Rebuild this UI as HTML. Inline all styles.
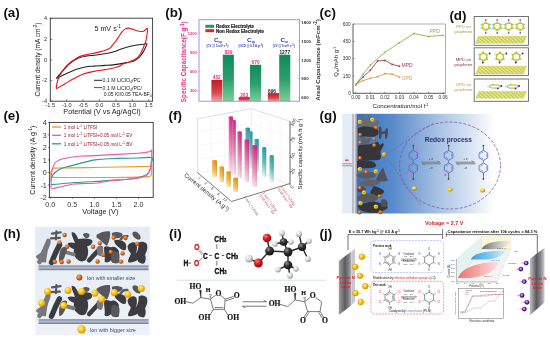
<!DOCTYPE html>
<html><head><meta charset="utf-8"><style>
html,body{margin:0;padding:0;background:#fff;width:550px;height:340px;overflow:hidden}
svg{display:block}
text{font-family:"Liberation Sans", Arial, sans-serif}
</style></head><body>
<svg width="550" height="340" viewBox="0 0 550 340">
<defs>
<linearGradient id="gb" x1="0" y1="0" x2="0" y2="1"><stop offset="0" stop-color="#0e8a5c"/><stop offset="0.55" stop-color="#2ea06e"/><stop offset="1" stop-color="#7ccf98"/></linearGradient>
<linearGradient id="rb" x1="0" y1="0" x2="0" y2="1"><stop offset="0" stop-color="#c01c22"/><stop offset="0.6" stop-color="#d8484c"/><stop offset="1" stop-color="#f4a0a0"/></linearGradient>
<pattern id="gstripe" width="2.6" height="2.6" patternUnits="userSpaceOnUse" patternTransform="rotate(-50)"><rect width="2.6" height="2.6" fill="#ececb0"/><rect width="1.3" height="2.6" fill="#c2c232"/><rect y="1.6" width="2.6" height="0.5" fill="#dcdc78"/></pattern>
<linearGradient id="tg" x1="0" y1="0" x2="0" y2="1"><stop offset="0" stop-color="#1f9aa0"/><stop offset="0.5" stop-color="#5cbcc0"/><stop offset="1" stop-color="#e8f6f6"/></linearGradient>
<linearGradient id="pg" x1="0" y1="0" x2="0" y2="1"><stop offset="0" stop-color="#d81e80"/><stop offset="0.5" stop-color="#e878b0"/><stop offset="1" stop-color="#f8e4ee"/></linearGradient>
<linearGradient id="og" x1="0" y1="0" x2="0" y2="1"><stop offset="0" stop-color="#e89410"/><stop offset="0.55" stop-color="#f2b840"/><stop offset="1" stop-color="#fbe8b0"/></linearGradient>
<linearGradient id="cyl" x1="0" y1="0" x2="1" y2="0"><stop offset="0" stop-color="#fff" stop-opacity="0.25"/><stop offset="0.35" stop-color="#fff" stop-opacity="0.05"/><stop offset="1" stop-color="#000" stop-opacity="0.12"/></linearGradient>
<linearGradient id="gbg" x1="0" y1="0" x2="1" y2="0"><stop offset="0" stop-color="#3574c0"/><stop offset="0.25" stop-color="#5a8ccc"/><stop offset="0.55" stop-color="#a9c3e4"/><stop offset="0.78" stop-color="#dce7f4"/><stop offset="0.92" stop-color="#ffffff"/></linearGradient>
<linearGradient id="coll" x1="0" y1="0" x2="1" y2="0"><stop offset="0" stop-color="#9a9aa4"/><stop offset="0.5" stop-color="#e0e0e8"/><stop offset="1" stop-color="#8a8a94"/></linearGradient>
<linearGradient id="tab" x1="0" y1="0" x2="0" y2="1"><stop offset="0" stop-color="#9a9aa4"/><stop offset="0.5" stop-color="#dcdce4"/><stop offset="1" stop-color="#8a8a94"/></linearGradient>
<radialGradient id="ob" cx="0.38" cy="0.35" r="0.7"><stop offset="0" stop-color="#f6b070"/><stop offset="0.5" stop-color="#d86818"/><stop offset="1" stop-color="#8a3a08"/></radialGradient>
<radialGradient id="yb" cx="0.38" cy="0.35" r="0.7"><stop offset="0" stop-color="#fff6a0"/><stop offset="0.5" stop-color="#f0c418"/><stop offset="1" stop-color="#a07808"/></radialGradient>
<linearGradient id="blobg" x1="0" y1="0" x2="1" y2="1"><stop offset="0" stop-color="#6a6a6e"/><stop offset="0.5" stop-color="#3a3a3e"/><stop offset="1" stop-color="#2a2a2c"/></linearGradient>
<linearGradient id="hbg" x1="0" y1="0" x2="0" y2="1"><stop offset="0" stop-color="#e4ebf4"/><stop offset="1" stop-color="#eef2f8"/></linearGradient>
<linearGradient id="hbar" x1="0" y1="0" x2="0" y2="1"><stop offset="0" stop-color="#7884a0"/><stop offset="0.5" stop-color="#b4bccc"/><stop offset="1" stop-color="#6c7894"/></linearGradient>
<linearGradient id="cg" x1="0" y1="0" x2="1" y2="1"><stop offset="0" stop-color="#8a8a8e"/><stop offset="0.5" stop-color="#48484c"/><stop offset="1" stop-color="#343436"/></linearGradient>
<radialGradient id="yb2" cx="0.38" cy="0.35" r="0.7"><stop offset="0" stop-color="#fff0a0"/><stop offset="0.55" stop-color="#f6c010"/><stop offset="1" stop-color="#d09000"/></radialGradient>
<radialGradient id="aO" cx="0.35" cy="0.3" r="0.75"><stop offset="0" stop-color="#ff8080"/><stop offset="0.45" stop-color="#e01818"/><stop offset="1" stop-color="#801010"/></radialGradient>
<radialGradient id="aC" cx="0.35" cy="0.3" r="0.75"><stop offset="0" stop-color="#909090"/><stop offset="0.45" stop-color="#303030"/><stop offset="1" stop-color="#101010"/></radialGradient>
<radialGradient id="aH" cx="0.35" cy="0.3" r="0.75"><stop offset="0" stop-color="#ffffff"/><stop offset="0.5" stop-color="#d8d8d8"/><stop offset="1" stop-color="#909090"/></radialGradient>
<linearGradient id="slabL" x1="0" y1="0" x2="1" y2="0"><stop offset="0" stop-color="#a0a0a4"/><stop offset="0.5" stop-color="#5c5c60"/><stop offset="0.85" stop-color="#8c8c90"/><stop offset="1" stop-color="#b8b8bc"/></linearGradient>
<linearGradient id="slabR" x1="0" y1="0" x2="1" y2="0"><stop offset="0" stop-color="#c8c8cc"/><stop offset="0.45" stop-color="#5a5a5e"/><stop offset="0.75" stop-color="#8a8a8e"/><stop offset="1" stop-color="#d0d0d4"/></linearGradient>
<linearGradient id="glowY" x1="0" y1="0" x2="1" y2="0"><stop offset="0" stop-color="#f8e800"/><stop offset="1" stop-color="#fff8a0" stop-opacity="0.2"/></linearGradient>
<linearGradient id="glowP" x1="1" y1="0" x2="0" y2="0"><stop offset="0" stop-color="#e080e0"/><stop offset="1" stop-color="#f8d0f8" stop-opacity="0.2"/></linearGradient>
<radialGradient id="pb" cx="0.38" cy="0.35" r="0.7"><stop offset="0" stop-color="#b070e0"/><stop offset="0.5" stop-color="#6a1aa0"/><stop offset="1" stop-color="#3a0a60"/></radialGradient>
<linearGradient id="ellGray" x1="0" y1="0" x2="1" y2="0"><stop offset="0" stop-color="#707070"/><stop offset="0.5" stop-color="#b8b8b8"/><stop offset="1" stop-color="#f4f4f4"/></linearGradient>
<linearGradient id="ellBlue" x1="0" y1="0" x2="1" y2="0"><stop offset="0" stop-color="#3a9ae8"/><stop offset="0.5" stop-color="#7ec4f0"/><stop offset="1" stop-color="#d8eefa"/></linearGradient>
<linearGradient id="ellRed" x1="0" y1="0" x2="1" y2="0"><stop offset="0" stop-color="#f07070"/><stop offset="0.5" stop-color="#f6a8a8"/><stop offset="1" stop-color="#fde0e0"/></linearGradient>
</defs>
<text x="3.4" y="16.8" font-size="13.4" text-anchor="start" fill="#111" font-weight="bold" >(a)</text>
<rect x="50.3" y="18.2" width="102.3" height="83.0" fill="none" stroke="#333" stroke-width="0.9"/>
<text x="47" y="20.2" font-size="5.6" text-anchor="end" fill="#333" font-weight="normal" >4</text>
<line x1="50.3" y1="18.2" x2="52.3" y2="18.2" stroke="#333" stroke-width="0.6"/>
<text x="47" y="41.4" font-size="5.6" text-anchor="end" fill="#333" font-weight="normal" >2</text>
<line x1="50.3" y1="39.4" x2="52.3" y2="39.4" stroke="#333" stroke-width="0.6"/>
<text x="47" y="62" font-size="5.6" text-anchor="end" fill="#333" font-weight="normal" >0</text>
<line x1="50.3" y1="60" x2="52.3" y2="60" stroke="#333" stroke-width="0.6"/>
<text x="47" y="82.4" font-size="5.6" text-anchor="end" fill="#333" font-weight="normal" >-2</text>
<line x1="50.3" y1="80.4" x2="52.3" y2="80.4" stroke="#333" stroke-width="0.6"/>
<text x="47" y="103" font-size="5.6" text-anchor="end" fill="#333" font-weight="normal" >-4</text>
<line x1="50.3" y1="101" x2="52.3" y2="101" stroke="#333" stroke-width="0.6"/>
<text x="50.3" y="107.2" font-size="5.6" text-anchor="middle" fill="#333" font-weight="normal" >-1.5</text>
<line x1="50.3" y1="101.2" x2="50.3" y2="99.2" stroke="#333" stroke-width="0.6"/>
<text x="66.69999999999999" y="107.2" font-size="5.6" text-anchor="middle" fill="#333" font-weight="normal" >-1.0</text>
<line x1="66.69999999999999" y1="101.2" x2="66.69999999999999" y2="99.2" stroke="#333" stroke-width="0.6"/>
<text x="83.1" y="107.2" font-size="5.6" text-anchor="middle" fill="#333" font-weight="normal" >-0.5</text>
<line x1="83.1" y1="101.2" x2="83.1" y2="99.2" stroke="#333" stroke-width="0.6"/>
<text x="99.5" y="107.2" font-size="5.6" text-anchor="middle" fill="#333" font-weight="normal" >0.0</text>
<line x1="99.5" y1="101.2" x2="99.5" y2="99.2" stroke="#333" stroke-width="0.6"/>
<text x="115.89999999999999" y="107.2" font-size="5.6" text-anchor="middle" fill="#333" font-weight="normal" >0.5</text>
<line x1="115.89999999999999" y1="101.2" x2="115.89999999999999" y2="99.2" stroke="#333" stroke-width="0.6"/>
<text x="132.3" y="107.2" font-size="5.6" text-anchor="middle" fill="#333" font-weight="normal" >1.0</text>
<line x1="132.3" y1="101.2" x2="132.3" y2="99.2" stroke="#333" stroke-width="0.6"/>
<text x="148.7" y="107.2" font-size="5.6" text-anchor="middle" fill="#333" font-weight="normal" >1.5</text>
<line x1="148.7" y1="101.2" x2="148.7" y2="99.2" stroke="#333" stroke-width="0.6"/>
<text x="102" y="114.2" font-size="7.25" text-anchor="middle" fill="#222" font-weight="normal" >Potential (V vs Ag/AgCl)</text>
<text transform="translate(40.4,59.5) rotate(-90)" font-size="6.5" text-anchor="middle" fill="#222">Current density (mA cm<tspan font-size="4.5" dy="-3">-2</tspan><tspan dy="3">)</tspan></text>
<text x="94.4" y="30.5" font-size="7.2" text-anchor="start" fill="#222" font-weight="normal" >5 mV s<tspan font-size="4.5" dy="-3">-1</tspan></text>
<path d="M56.2,78.5 C56.9,77.7 58.6,75.6 60.3,73.7 C62.0,71.8 64.2,69.0 66.2,67.0 C68.2,65.0 70.0,63.4 72.0,61.9 C74.0,60.4 75.5,59.2 78.0,58.2 C80.5,57.2 84.1,56.5 86.8,56.0 C89.5,55.5 91.8,55.5 94.0,55.2 C96.2,55.0 97.8,54.8 100.0,54.5 C102.2,54.2 105.0,53.8 107.4,53.3 C109.9,52.8 112.3,52.4 114.7,51.6 C117.1,50.8 119.5,49.6 122.0,48.7 C124.5,47.9 126.9,47.1 129.4,46.5 C131.9,45.9 134.4,45.4 136.8,45.0 C139.2,44.6 142.3,44.5 144.0,44.3 C145.7,44.1 146.7,43.3 147.0,43.8 C147.3,44.3 146.2,45.9 145.6,47.2 C145.0,48.5 144.4,50.0 143.4,51.6 C142.4,53.2 141.3,55.2 139.7,56.8 C138.1,58.3 136.0,59.9 133.8,60.9 C131.6,61.9 129.7,62.0 126.5,62.6 C123.3,63.2 118.3,64.1 114.7,64.6 C111.1,65.1 108.4,65.2 105.0,65.4 C101.6,65.7 97.4,65.8 94.1,66.1 C90.8,66.4 88.2,66.5 85.3,67.0 C82.4,67.5 79.5,68.3 76.5,69.3 C73.5,70.3 70.3,71.8 67.6,73.0 C64.9,74.2 62.2,75.7 60.3,76.6 C58.4,77.5 56.9,78.2 56.2,78.5" fill="none" stroke="#222" stroke-width="1.1"/>
<path d="M56.2,88.8 C56.3,87.9 56.6,85.1 57.0,83.2 C57.4,81.3 57.8,79.6 58.8,77.4 C59.8,75.2 61.5,72.3 63.2,70.0 C64.9,67.7 66.9,65.4 69.1,63.4 C71.3,61.4 74.3,59.5 76.5,58.2 C78.7,56.9 80.0,56.3 82.4,55.6 C84.9,54.9 88.3,54.4 91.2,53.8 C94.1,53.2 97.5,52.5 100.0,51.9 C102.5,51.3 104.2,50.8 105.9,50.1 C107.6,49.4 109.1,48.9 110.3,47.9 C111.5,46.9 112.2,45.5 113.2,44.3 C114.2,43.1 115.2,42.0 116.2,40.6 C117.2,39.2 118.1,37.7 119.1,36.2 C120.1,34.7 121.0,33.0 122.0,31.8 C123.0,30.6 124.0,29.7 125.0,29.1 C126.0,28.5 126.8,28.1 128.0,28.1 C129.2,28.1 130.7,28.6 132.4,29.1 C134.1,29.6 136.5,30.6 138.2,31.0 C139.9,31.4 141.5,31.6 142.6,31.5 C143.7,31.4 144.1,30.8 144.9,30.3 C145.7,29.8 147.1,27.8 147.4,28.5 C147.8,29.2 147.3,32.5 147.0,34.7 C146.7,37.0 146.2,39.9 145.6,42.0 C145.0,44.1 144.1,45.5 143.4,47.2 C142.7,48.9 142.3,50.6 141.2,52.4 C140.1,54.2 138.8,56.6 136.8,58.2 C134.8,59.8 131.6,61.0 129.4,61.9 C127.2,62.8 125.2,63.1 123.5,63.8 C121.8,64.5 120.6,65.6 119.1,66.3 C117.6,67.0 117.0,67.2 114.7,67.8 C112.4,68.3 108.4,69.0 105.0,69.6 C101.6,70.2 97.9,70.6 94.1,71.4 C90.3,72.2 85.8,73.2 82.4,74.4 C79.0,75.6 76.5,77.2 73.5,78.8 C70.5,80.4 67.6,82.3 64.7,84.0 C61.8,85.7 57.6,88.0 56.2,88.8" fill="none" stroke="#e8141c" stroke-width="1.1"/>
<line x1="94" y1="80.3" x2="102" y2="80.3" stroke="#222" stroke-width="1"/>
<line x1="94" y1="87.6" x2="102" y2="87.6" stroke="#e8141c" stroke-width="1"/>
<text x="102.6" y="82.2" font-size="5.2" text-anchor="start" fill="#222" font-weight="normal" >0.1 M LiClO<tspan font-size="3.5" dy="1">4</tspan><tspan dy="-1">/PC</tspan></text>
<text x="102.6" y="89.5" font-size="5.2" text-anchor="start" fill="#222" font-weight="normal" >0.1 M LiClO<tspan font-size="3.5" dy="1">4</tspan><tspan dy="-1">/PC/</tspan></text>
<text x="103.8" y="96.4" font-size="5.0" text-anchor="start" fill="#222" font-weight="normal" >0.05 KI/0.05 TEA-BF<tspan font-size="3.5" dy="1">4</tspan></text>
<text x="165.3" y="16.8" font-size="13.4" text-anchor="start" fill="#111" font-weight="bold" >(b)</text>
<rect x="211.4" y="79.9" width="10.900000000000006" height="21.299999999999997" fill="url(#rb)"/>
<rect x="222.8" y="54.7" width="11.099999999999994" height="46.5" fill="url(#gb)"/>
<rect x="238.7" y="97.1" width="11.100000000000023" height="4.1000000000000085" fill="url(#rb)"/>
<rect x="250" y="64.8" width="11.199999999999989" height="36.400000000000006" fill="url(#gb)"/>
<rect x="267.8" y="93.1" width="11.199999999999989" height="8.100000000000009" fill="url(#rb)"/>
<rect x="279.2" y="54.7" width="11.100000000000023" height="46.5" fill="url(#gb)"/>
<rect x="199" y="19.7" width="100.60000000000002" height="81.5" fill="none" stroke="#8c8ce6" stroke-width="0.9"/>
<text x="196.8" y="34.5" font-size="4.1" text-anchor="end" fill="#e8308a" font-weight="bold" >1200</text>
<line x1="199" y1="33" x2="200.5" y2="33" stroke="#8c8ce6" stroke-width="0.6"/>
<text x="196.8" y="53.8" font-size="4.1" text-anchor="end" fill="#e8308a" font-weight="bold" >900</text>
<line x1="199" y1="52.3" x2="200.5" y2="52.3" stroke="#8c8ce6" stroke-width="0.6"/>
<text x="196.8" y="73.1" font-size="4.1" text-anchor="end" fill="#e8308a" font-weight="bold" >600</text>
<line x1="199" y1="71.6" x2="200.5" y2="71.6" stroke="#8c8ce6" stroke-width="0.6"/>
<text x="196.8" y="92.4" font-size="4.1" text-anchor="end" fill="#e8308a" font-weight="bold" >300</text>
<line x1="199" y1="90.9" x2="200.5" y2="90.9" stroke="#8c8ce6" stroke-width="0.6"/>
<text x="301.3" y="24.0" font-size="4.4" text-anchor="start" fill="#333" font-weight="bold" >1800</text>
<line x1="298.1" y1="22.4" x2="299.6" y2="22.4" stroke="#8c8ce6" stroke-width="0.6"/>
<text x="301.3" y="42.5" font-size="4.4" text-anchor="start" fill="#333" font-weight="bold" >1500</text>
<line x1="298.1" y1="40.9" x2="299.6" y2="40.9" stroke="#8c8ce6" stroke-width="0.6"/>
<text x="301.3" y="61.5" font-size="4.4" text-anchor="start" fill="#333" font-weight="bold" >1200</text>
<line x1="298.1" y1="59.9" x2="299.6" y2="59.9" stroke="#8c8ce6" stroke-width="0.6"/>
<text x="301.3" y="80.19999999999999" font-size="4.4" text-anchor="start" fill="#333" font-weight="bold" >900</text>
<line x1="298.1" y1="78.6" x2="299.6" y2="78.6" stroke="#8c8ce6" stroke-width="0.6"/>
<text x="301.3" y="99.19999999999999" font-size="4.4" text-anchor="start" fill="#333" font-weight="bold" >600</text>
<line x1="298.1" y1="97.6" x2="299.6" y2="97.6" stroke="#8c8ce6" stroke-width="0.6"/>
<text transform="translate(186.4,61.8) rotate(-90)" font-size="6.3" font-weight="bold" text-anchor="middle" fill="#e8308a">Specific Capacitance(F g<tspan font-size="4.5" dy="-2.6">-1</tspan><tspan dy="2.6">)</tspan></text>
<text transform="translate(319.6,60) rotate(-90)" font-size="6.2" font-weight="bold" text-anchor="middle" fill="#333">Areal Capacitance (mFcm<tspan font-size="4.5" dy="-2.6">-2</tspan><tspan dy="2.6">)</tspan></text>
<rect x="205.3" y="24.8" width="8.8" height="3.0" fill="#1a9a6a"/>
<rect x="205.3" y="29.2" width="8.8" height="3.0" fill="#d82a2a"/>
<text x="215.9" y="28.2" font-size="4.5" text-anchor="start" fill="#222" font-weight="bold" stroke="#222" stroke-width="0.18">Redox Electrolyte</text>
<text x="215.9" y="32.5" font-size="4.5" text-anchor="start" fill="#222" font-weight="bold" stroke="#222" stroke-width="0.18">Non Redox Electrolyte</text>
<text x="218" y="41.8" font-size="6.2" text-anchor="middle" fill="#2a3ab0" font-weight="bold" >C<tspan font-size="3.2" dy="1">sp</tspan></text>
<text x="217.5" y="46.9" font-size="2.9" text-anchor="middle" fill="#2a3ab0" font-weight="bold" >(CV @ 5 mV s<tspan font-size="2.6" dy="-1.3">-1</tspan><tspan dy="1.3">)</tspan></text>
<text x="251.2" y="41.8" font-size="6.2" text-anchor="middle" fill="#2a3ab0" font-weight="bold" >C<tspan font-size="3.2" dy="1">sp</tspan></text>
<text x="250.7" y="46.9" font-size="2.9" text-anchor="middle" fill="#2a3ab0" font-weight="bold" >(GCD @ 0.5 A g<tspan font-size="2.6" dy="-1.3">-1</tspan><tspan dy="1.3">)</tspan></text>
<text x="284.2" y="41.8" font-size="6.2" text-anchor="middle" fill="#2a3ab0" font-weight="bold" >C<tspan font-size="3.2" dy="1">ar</tspan></text>
<text x="283.7" y="46.9" font-size="2.9" text-anchor="middle" fill="#2a3ab0" font-weight="bold" >(CV @ 5 mV s<tspan font-size="2.6" dy="-1.3">-1</tspan><tspan dy="1.3">)</tspan></text>
<text x="216.8" y="79.3" font-size="4.8" text-anchor="middle" fill="#e8308a" font-weight="bold" >452</text>
<text x="228.4" y="54.4" font-size="4.8" text-anchor="middle" fill="#e8308a" font-weight="bold" >829</text>
<text x="244.2" y="96.6" font-size="4.8" text-anchor="middle" fill="#e8308a" font-weight="bold" >203</text>
<text x="255.6" y="64.4" font-size="4.8" text-anchor="middle" fill="#e8308a" font-weight="bold" >670</text>
<text x="272" y="92.5" font-size="4.8" text-anchor="middle" fill="#222" font-weight="bold" >696</text>
<text x="284.8" y="54.4" font-size="4.8" text-anchor="middle" fill="#222" font-weight="bold" >1277</text>
<text x="319.5" y="16.9" font-size="13.4" text-anchor="start" fill="#111" font-weight="bold" >(c)</text>
<path d="M353,24 L445.5,24 L445.5,93.3" fill="none" stroke="#999" stroke-width="0.8"/>
<path d="M353,24 L353,93.3 L445.5,93.3" fill="none" stroke="#333" stroke-width="0.8"/>
<text x="350.8" y="25.7" font-size="4.8" text-anchor="end" fill="#333" font-weight="normal" >600</text>
<line x1="353" y1="24" x2="354.5" y2="24" stroke="#333" stroke-width="0.5"/>
<text x="350.8" y="43.0" font-size="4.8" text-anchor="end" fill="#333" font-weight="normal" >450</text>
<line x1="353" y1="41.3" x2="354.5" y2="41.3" stroke="#333" stroke-width="0.5"/>
<text x="350.8" y="60.300000000000004" font-size="4.8" text-anchor="end" fill="#333" font-weight="normal" >300</text>
<line x1="353" y1="58.6" x2="354.5" y2="58.6" stroke="#333" stroke-width="0.5"/>
<text x="350.8" y="77.7" font-size="4.8" text-anchor="end" fill="#333" font-weight="normal" >150</text>
<line x1="353" y1="76" x2="354.5" y2="76" stroke="#333" stroke-width="0.5"/>
<text x="350.8" y="95.0" font-size="4.8" text-anchor="end" fill="#333" font-weight="normal" >0</text>
<line x1="353" y1="93.3" x2="354.5" y2="93.3" stroke="#333" stroke-width="0.5"/>
<text x="355.8" y="99.3" font-size="4.8" text-anchor="middle" fill="#333" font-weight="normal" >0.00</text>
<line x1="355.8" y1="93.3" x2="355.8" y2="91.8" stroke="#333" stroke-width="0.5"/>
<text x="370.35" y="99.3" font-size="4.8" text-anchor="middle" fill="#333" font-weight="normal" >0.01</text>
<line x1="370.35" y1="93.3" x2="370.35" y2="91.8" stroke="#333" stroke-width="0.5"/>
<text x="384.90000000000003" y="99.3" font-size="4.8" text-anchor="middle" fill="#333" font-weight="normal" >0.02</text>
<line x1="384.90000000000003" y1="93.3" x2="384.90000000000003" y2="91.8" stroke="#333" stroke-width="0.5"/>
<text x="399.45000000000005" y="99.3" font-size="4.8" text-anchor="middle" fill="#333" font-weight="normal" >0.03</text>
<line x1="399.45000000000005" y1="93.3" x2="399.45000000000005" y2="91.8" stroke="#333" stroke-width="0.5"/>
<text x="414.0" y="99.3" font-size="4.8" text-anchor="middle" fill="#333" font-weight="normal" >0.04</text>
<line x1="414.0" y1="93.3" x2="414.0" y2="91.8" stroke="#333" stroke-width="0.5"/>
<text x="428.55" y="99.3" font-size="4.8" text-anchor="middle" fill="#333" font-weight="normal" >0.05</text>
<line x1="428.55" y1="93.3" x2="428.55" y2="91.8" stroke="#333" stroke-width="0.5"/>
<text x="443.1" y="99.3" font-size="4.8" text-anchor="middle" fill="#333" font-weight="normal" >0.06</text>
<line x1="443.1" y1="93.3" x2="443.1" y2="91.8" stroke="#333" stroke-width="0.5"/>
<text x="400.5" y="107.7" font-size="6.1" text-anchor="middle" fill="#222" font-weight="normal" >Concentration/mol l<tspan font-size="3.8" dy="-2">-1</tspan></text>
<text transform="translate(338.2,61.7) rotate(-90)" font-size="6" text-anchor="middle" fill="#222">Q<tspan font-size="3.6" dy="1">m</tspan><tspan dy="-1">/mAh g</tspan><tspan font-size="3.6" dy="-2">-1</tspan></text>
<polyline points="355.8,84.6 363.1,74.2 370.4,65.0 384.9,52.3 399.4,42.8 414.0,33.5 428.6,36.5 443.1,35.3" fill="none" stroke="#8ab446" stroke-width="0.9"/>
<circle cx="355.8" cy="84.6" r="0.9" fill="#8ab446"/>
<circle cx="363.1" cy="74.2" r="0.9" fill="#8ab446"/>
<circle cx="370.4" cy="65.0" r="0.9" fill="#8ab446"/>
<circle cx="384.9" cy="52.3" r="0.9" fill="#8ab446"/>
<circle cx="399.4" cy="42.8" r="0.9" fill="#8ab446"/>
<circle cx="414.0" cy="33.5" r="0.9" fill="#8ab446"/>
<circle cx="428.6" cy="36.5" r="0.9" fill="#8ab446"/>
<circle cx="443.1" cy="35.3" r="0.9" fill="#8ab446"/>
<polyline points="355.8,84.6 363.1,77.1 370.4,70.2 377.6,61.0 384.9,60.4 392.2,64.4 399.4,66.2" fill="none" stroke="#9c3c50" stroke-width="0.9"/>
<circle cx="355.8" cy="84.6" r="0.9" fill="#9c3c50"/>
<circle cx="363.1" cy="77.1" r="0.9" fill="#9c3c50"/>
<circle cx="370.4" cy="70.2" r="0.9" fill="#9c3c50"/>
<circle cx="377.6" cy="61.0" r="0.9" fill="#9c3c50"/>
<circle cx="384.9" cy="60.4" r="0.9" fill="#9c3c50"/>
<circle cx="392.2" cy="64.4" r="0.9" fill="#9c3c50"/>
<circle cx="399.4" cy="66.2" r="0.9" fill="#9c3c50"/>
<polyline points="355.8,84.6 363.1,80.6 370.4,78.3 377.6,76.8 384.9,73.7 392.2,74.2 399.4,77.1" fill="none" stroke="#dc9a4a" stroke-width="0.9"/>
<circle cx="355.8" cy="84.6" r="0.9" fill="#dc9a4a"/>
<circle cx="363.1" cy="80.6" r="0.9" fill="#dc9a4a"/>
<circle cx="370.4" cy="78.3" r="0.9" fill="#dc9a4a"/>
<circle cx="377.6" cy="76.8" r="0.9" fill="#dc9a4a"/>
<circle cx="384.9" cy="73.7" r="0.9" fill="#dc9a4a"/>
<circle cx="392.2" cy="74.2" r="0.9" fill="#dc9a4a"/>
<circle cx="399.4" cy="77.1" r="0.9" fill="#dc9a4a"/>
<text x="429.5" y="33" font-size="5" text-anchor="start" fill="#8ab446" font-weight="normal" >PPD</text>
<text x="401.5" y="66.6" font-size="5" text-anchor="start" fill="#9c3c50" font-weight="normal" >MPD</text>
<text x="401.5" y="79.5" font-size="5" text-anchor="start" fill="#dc9a4a" font-weight="normal" >OPD</text>
<text x="449.4" y="20.1" font-size="13.4" text-anchor="start" fill="#111" font-weight="bold" >(d)</text>
<rect x="474.2" y="16.5" width="54.3" height="28.799999999999997" fill="#fff" stroke="#666" stroke-width="0.9"/>
<rect x="474.2" y="47.8" width="54.3" height="27.60000000000001" fill="#fff" stroke="#666" stroke-width="0.9"/>
<rect x="474.2" y="79" width="54.3" height="22.299999999999997" fill="#fff" stroke="#666" stroke-width="0.9"/>
<text x="463.4" y="28" font-size="4.3" text-anchor="middle" fill="#a0a040" font-weight="normal" >PPD on</text>
<text x="463.4" y="33.3" font-size="4.3" text-anchor="middle" fill="#a0a040" font-weight="normal" >graphene</text>
<text x="463.4" y="60.5" font-size="4.3" text-anchor="middle" fill="#8c3040" font-weight="normal" >MPD on</text>
<text x="463.4" y="65.7" font-size="4.3" text-anchor="middle" fill="#8c3040" font-weight="normal" >graphene</text>
<text x="463.4" y="86.2" font-size="4.3" text-anchor="middle" fill="#c8924a" font-weight="normal" >OPD on</text>
<text x="463.4" y="91.4" font-size="4.3" text-anchor="middle" fill="#c8924a" font-weight="normal" >graphene</text>
<polygon points="478.4,36.2 526.6,36.2 523.6,43.2 475.4,43.2" fill="url(#gstripe)" stroke="#c8c83a" stroke-width="0.4"/>
<polygon points="478.8,66.2 526.6,66.2 523.6,74.0 475.8,74.0" fill="url(#gstripe)" stroke="#c8c83a" stroke-width="0.4"/>
<polygon points="478.8,91.5 526.6,91.5 523.6,98.2 475.8,98.2" fill="url(#gstripe)" stroke="#c8c83a" stroke-width="0.4"/>
<polygon points="489.0,28.2 485.8,30.1 482.6,28.2 482.6,24.5 485.8,22.7 489.0,24.5" fill="none" stroke="#c4c42a" stroke-width="1.4"/>
<circle cx="489.0" cy="28.2" r="1.05" fill="#c4c42a"/>
<circle cx="485.8" cy="30.1" r="1.05" fill="#c4c42a"/>
<circle cx="482.6" cy="28.2" r="1.05" fill="#c4c42a"/>
<circle cx="482.6" cy="24.5" r="1.05" fill="#c4c42a"/>
<circle cx="485.8" cy="22.7" r="1.05" fill="#c4c42a"/>
<circle cx="489.0" cy="24.5" r="1.05" fill="#c4c42a"/>
<polygon points="484.8,19.6 486.8,19.6 485.8,21.4" fill="#2a2ad0"/>
<polygon points="484.8,33.4 486.8,33.4 485.8,31.6" fill="#2a2ad0"/>
<circle cx="481.2" cy="24.6" r="0.6" fill="#60c0e0"/><circle cx="481.2" cy="28.2" r="0.6" fill="#60c0e0"/>
<circle cx="490.40000000000003" cy="24.6" r="0.6" fill="#60c0e0"/><circle cx="490.40000000000003" cy="28.2" r="0.6" fill="#60c0e0"/>
<polygon points="500.4,28.2 497.2,30.1 494.0,28.2 494.0,24.5 497.2,22.7 500.4,24.5" fill="none" stroke="#c4c42a" stroke-width="1.4"/>
<circle cx="500.4" cy="28.2" r="1.05" fill="#c4c42a"/>
<circle cx="497.2" cy="30.1" r="1.05" fill="#c4c42a"/>
<circle cx="494.0" cy="28.2" r="1.05" fill="#c4c42a"/>
<circle cx="494.0" cy="24.5" r="1.05" fill="#c4c42a"/>
<circle cx="497.2" cy="22.7" r="1.05" fill="#c4c42a"/>
<circle cx="500.4" cy="24.5" r="1.05" fill="#c4c42a"/>
<polygon points="496.2,19.6 498.2,19.6 497.2,21.4" fill="#2a2ad0"/>
<polygon points="496.2,33.4 498.2,33.4 497.2,31.6" fill="#2a2ad0"/>
<circle cx="492.59999999999997" cy="24.6" r="0.6" fill="#60c0e0"/><circle cx="492.59999999999997" cy="28.2" r="0.6" fill="#60c0e0"/>
<circle cx="501.8" cy="24.6" r="0.6" fill="#60c0e0"/><circle cx="501.8" cy="28.2" r="0.6" fill="#60c0e0"/>
<polygon points="511.9,28.2 508.7,30.1 505.5,28.2 505.5,24.5 508.7,22.7 511.9,24.5" fill="none" stroke="#c4c42a" stroke-width="1.4"/>
<circle cx="511.9" cy="28.2" r="1.05" fill="#c4c42a"/>
<circle cx="508.7" cy="30.1" r="1.05" fill="#c4c42a"/>
<circle cx="505.5" cy="28.2" r="1.05" fill="#c4c42a"/>
<circle cx="505.5" cy="24.5" r="1.05" fill="#c4c42a"/>
<circle cx="508.7" cy="22.7" r="1.05" fill="#c4c42a"/>
<circle cx="511.9" cy="24.5" r="1.05" fill="#c4c42a"/>
<polygon points="507.7,19.6 509.7,19.6 508.7,21.4" fill="#2a2ad0"/>
<polygon points="507.7,33.4 509.7,33.4 508.7,31.6" fill="#2a2ad0"/>
<circle cx="504.09999999999997" cy="24.6" r="0.6" fill="#60c0e0"/><circle cx="504.09999999999997" cy="28.2" r="0.6" fill="#60c0e0"/>
<circle cx="513.3" cy="24.6" r="0.6" fill="#60c0e0"/><circle cx="513.3" cy="28.2" r="0.6" fill="#60c0e0"/>
<polygon points="523.4,28.2 520.2,30.1 517.0,28.2 517.0,24.5 520.2,22.7 523.4,24.5" fill="none" stroke="#c4c42a" stroke-width="1.4"/>
<circle cx="523.4" cy="28.2" r="1.05" fill="#c4c42a"/>
<circle cx="520.2" cy="30.1" r="1.05" fill="#c4c42a"/>
<circle cx="517.0" cy="28.2" r="1.05" fill="#c4c42a"/>
<circle cx="517.0" cy="24.5" r="1.05" fill="#c4c42a"/>
<circle cx="520.2" cy="22.7" r="1.05" fill="#c4c42a"/>
<circle cx="523.4" cy="24.5" r="1.05" fill="#c4c42a"/>
<polygon points="519.2,19.6 521.2,19.6 520.2,21.4" fill="#2a2ad0"/>
<polygon points="519.2,33.4 521.2,33.4 520.2,31.6" fill="#2a2ad0"/>
<circle cx="515.6" cy="24.6" r="0.6" fill="#60c0e0"/><circle cx="515.6" cy="28.2" r="0.6" fill="#60c0e0"/>
<circle cx="524.8000000000001" cy="24.6" r="0.6" fill="#60c0e0"/><circle cx="524.8000000000001" cy="28.2" r="0.6" fill="#60c0e0"/>
<polygon points="486.7,58.8 483.3,60.7 479.9,58.8 479.9,54.8 483.3,52.9 486.7,54.8" fill="none" stroke="#c4c42a" stroke-width="1.4"/>
<circle cx="486.7" cy="58.8" r="1.05" fill="#c4c42a"/>
<circle cx="483.3" cy="60.7" r="1.05" fill="#c4c42a"/>
<circle cx="479.9" cy="58.8" r="1.05" fill="#c4c42a"/>
<circle cx="479.9" cy="54.8" r="1.05" fill="#c4c42a"/>
<circle cx="483.3" cy="52.9" r="1.05" fill="#c4c42a"/>
<circle cx="486.7" cy="54.8" r="1.05" fill="#c4c42a"/>
<circle cx="489.6" cy="53.6" r="1" fill="#2a2ad0"/>
<circle cx="482.8" cy="62.6" r="1" fill="#2a2ad0"/>
<circle cx="478.8" cy="54.0" r="0.6" fill="#60c0e0"/>
<circle cx="478.8" cy="59.0" r="0.6" fill="#60c0e0"/>
<circle cx="483.3" cy="51.5" r="0.6" fill="#60c0e0"/>
<circle cx="487.5" cy="59.5" r="0.6" fill="#60c0e0"/>
<polygon points="503.4,58.8 500.0,60.7 496.6,58.8 496.6,54.8 500.0,52.9 503.4,54.8" fill="none" stroke="#c4c42a" stroke-width="1.4"/>
<circle cx="503.4" cy="58.8" r="1.05" fill="#c4c42a"/>
<circle cx="500.0" cy="60.7" r="1.05" fill="#c4c42a"/>
<circle cx="496.6" cy="58.8" r="1.05" fill="#c4c42a"/>
<circle cx="496.6" cy="54.8" r="1.05" fill="#c4c42a"/>
<circle cx="500.0" cy="52.9" r="1.05" fill="#c4c42a"/>
<circle cx="503.4" cy="54.8" r="1.05" fill="#c4c42a"/>
<circle cx="506.3" cy="53.6" r="1" fill="#2a2ad0"/>
<circle cx="499.5" cy="62.6" r="1" fill="#2a2ad0"/>
<circle cx="495.5" cy="54.0" r="0.6" fill="#60c0e0"/>
<circle cx="495.5" cy="59.0" r="0.6" fill="#60c0e0"/>
<circle cx="500" cy="51.5" r="0.6" fill="#60c0e0"/>
<circle cx="504.2" cy="59.5" r="0.6" fill="#60c0e0"/>
<polygon points="519.7,58.8 516.3,60.7 512.9,58.8 512.9,54.8 516.3,52.9 519.7,54.8" fill="none" stroke="#c4c42a" stroke-width="1.4"/>
<circle cx="519.7" cy="58.8" r="1.05" fill="#c4c42a"/>
<circle cx="516.3" cy="60.7" r="1.05" fill="#c4c42a"/>
<circle cx="512.9" cy="58.8" r="1.05" fill="#c4c42a"/>
<circle cx="512.9" cy="54.8" r="1.05" fill="#c4c42a"/>
<circle cx="516.3" cy="52.9" r="1.05" fill="#c4c42a"/>
<circle cx="519.7" cy="54.8" r="1.05" fill="#c4c42a"/>
<circle cx="522.5999999999999" cy="53.6" r="1" fill="#2a2ad0"/>
<circle cx="515.8" cy="62.6" r="1" fill="#2a2ad0"/>
<circle cx="511.79999999999995" cy="54.0" r="0.6" fill="#60c0e0"/>
<circle cx="511.79999999999995" cy="59.0" r="0.6" fill="#60c0e0"/>
<circle cx="516.3" cy="51.5" r="0.6" fill="#60c0e0"/>
<circle cx="520.5" cy="59.5" r="0.6" fill="#60c0e0"/>
<ellipse cx="494.8" cy="86.5" rx="5.5" ry="1.6" fill="none" stroke="#c4c42a" stroke-width="1.1"/>
<circle cx="501.3" cy="86" r="1" fill="#2a2ad0"/><circle cx="497.8" cy="88.6" r="0.9" fill="#2a2ad0"/>
<circle cx="487.8" cy="86.5" r="0.6" fill="#60c0e0"/><circle cx="492.8" cy="84.2" r="0.6" fill="#60c0e0"/>
<ellipse cx="512.5" cy="86.5" rx="5.5" ry="1.6" fill="none" stroke="#c4c42a" stroke-width="1.1"/>
<circle cx="519.0" cy="86" r="1" fill="#2a2ad0"/><circle cx="515.5" cy="88.6" r="0.9" fill="#2a2ad0"/>
<circle cx="505.5" cy="86.5" r="0.6" fill="#60c0e0"/><circle cx="510.5" cy="84.2" r="0.6" fill="#60c0e0"/>
<text x="3.4" y="119.5" font-size="13.4" text-anchor="start" fill="#111" font-weight="bold" >(e)</text>
<rect x="49.4" y="122.4" width="103.79999999999998" height="75.0" fill="none" stroke="#333" stroke-width="0.9"/>
<text x="46.8" y="200.0" font-size="7.2" text-anchor="end" fill="#333" font-weight="normal" >-2</text>
<line x1="47.9" y1="197.4" x2="49.4" y2="197.4" stroke="#333" stroke-width="0.6"/>
<text x="46.8" y="187.5" font-size="7.2" text-anchor="end" fill="#333" font-weight="normal" >-1</text>
<line x1="47.9" y1="184.9" x2="49.4" y2="184.9" stroke="#333" stroke-width="0.6"/>
<text x="46.8" y="175.0" font-size="7.2" text-anchor="end" fill="#333" font-weight="normal" >0</text>
<line x1="47.9" y1="172.4" x2="49.4" y2="172.4" stroke="#333" stroke-width="0.6"/>
<text x="46.8" y="162.5" font-size="7.2" text-anchor="end" fill="#333" font-weight="normal" >1</text>
<line x1="47.9" y1="159.9" x2="49.4" y2="159.9" stroke="#333" stroke-width="0.6"/>
<text x="46.8" y="150.0" font-size="7.2" text-anchor="end" fill="#333" font-weight="normal" >2</text>
<line x1="47.9" y1="147.4" x2="49.4" y2="147.4" stroke="#333" stroke-width="0.6"/>
<text x="46.8" y="137.5" font-size="7.2" text-anchor="end" fill="#333" font-weight="normal" >3</text>
<line x1="47.9" y1="134.9" x2="49.4" y2="134.9" stroke="#333" stroke-width="0.6"/>
<text x="46.8" y="125.0" font-size="7.2" text-anchor="end" fill="#333" font-weight="normal" >4</text>
<line x1="47.9" y1="122.4" x2="49.4" y2="122.4" stroke="#333" stroke-width="0.6"/>
<text x="50.3" y="206.8" font-size="7.2" text-anchor="middle" fill="#333" font-weight="normal" >0.0</text>
<line x1="50.3" y1="197.4" x2="50.3" y2="198.9" stroke="#333" stroke-width="0.6"/>
<text x="72.35" y="206.8" font-size="7.2" text-anchor="middle" fill="#333" font-weight="normal" >0.5</text>
<line x1="72.35" y1="197.4" x2="72.35" y2="198.9" stroke="#333" stroke-width="0.6"/>
<text x="94.4" y="206.8" font-size="7.2" text-anchor="middle" fill="#333" font-weight="normal" >1.0</text>
<line x1="94.4" y1="197.4" x2="94.4" y2="198.9" stroke="#333" stroke-width="0.6"/>
<text x="116.45" y="206.8" font-size="7.2" text-anchor="middle" fill="#333" font-weight="normal" >1.5</text>
<line x1="116.45" y1="197.4" x2="116.45" y2="198.9" stroke="#333" stroke-width="0.6"/>
<text x="138.5" y="206.8" font-size="7.2" text-anchor="middle" fill="#333" font-weight="normal" >2.0</text>
<line x1="138.5" y1="197.4" x2="138.5" y2="198.9" stroke="#333" stroke-width="0.6"/>
<text x="100.3" y="214.4" font-size="7.3" text-anchor="middle" fill="#222" font-weight="normal" >Voltage (V)</text>
<text transform="translate(34.6,160.2) rotate(-90)" font-size="7.1" text-anchor="middle" fill="#222">Current density (A g<tspan font-size="4.5" dy="-2.8">-1</tspan><tspan dy="2.8">)</tspan></text>
<path d="M50.2,175.5 C50.3,175.0 50.5,173.7 50.9,172.5 C51.3,171.3 51.7,169.3 52.4,168.6 C53.1,167.9 52.1,168.2 55.0,168.1 C57.9,168.0 63.3,168.0 70.0,167.9 C76.7,167.8 86.7,167.7 95.0,167.5 C103.3,167.3 112.5,167.2 120.0,167.0 C127.5,166.8 134.9,166.7 140.0,166.6 C145.1,166.5 148.6,166.4 150.5,166.3 C152.4,166.2 151.4,165.2 151.6,166.2 C151.8,167.1 151.7,170.4 151.6,172.0 C151.5,173.6 151.6,174.7 151.0,175.5 C150.4,176.3 151.8,176.3 148.0,176.6 C144.2,176.9 136.0,177.2 128.0,177.4 C120.0,177.6 110.0,177.5 100.0,177.5 C90.0,177.5 76.0,177.5 68.0,177.5 C60.0,177.5 55.0,177.6 52.0,177.4 C49.0,177.2 50.5,176.7 50.2,176.5" fill="none" stroke="#f0962a" stroke-width="1.1"/>
<path d="M50.9,181.5 C51.0,181.0 51.0,179.4 51.3,178.5 C51.5,177.6 51.8,176.8 52.4,175.9 C53.0,175.0 53.4,174.1 54.6,173.0 C55.8,171.9 57.6,170.3 59.7,169.3 C61.8,168.3 64.5,167.5 67.0,166.8 C69.5,166.1 71.9,165.6 74.4,164.9 C76.9,164.2 78.4,163.7 81.8,162.9 C85.2,162.1 90.6,160.6 95.0,159.9 C99.4,159.2 104.2,159.1 108.0,158.8 C111.8,158.6 113.0,158.5 118.0,158.4 C123.0,158.3 132.4,158.1 138.0,158.0 C143.6,157.9 149.5,156.8 151.7,157.6 C153.9,158.4 151.5,161.2 151.3,163.0 C151.1,164.8 150.8,166.9 150.3,168.5 C149.9,170.1 149.5,171.3 148.6,172.5 C147.7,173.7 146.8,174.7 145.0,175.5 C143.2,176.3 140.8,177.0 138.0,177.6 C135.2,178.2 132.7,178.8 128.0,179.2 C123.3,179.6 115.5,179.9 110.0,180.3 C104.5,180.7 100.9,181.1 95.0,181.5 C89.1,181.9 80.3,182.1 74.4,182.5 C68.5,182.9 63.6,183.6 59.7,184.0 C55.8,184.4 52.4,184.6 50.9,184.7" fill="none" stroke="#2a9a90" stroke-width="1.1"/>
<path d="M50.9,188.0 C51.0,186.7 51.1,182.6 51.2,180.0 C51.4,177.4 51.5,174.6 51.8,172.4 C52.1,170.2 52.4,168.6 53.0,167.0 C53.6,165.4 54.2,163.8 55.3,162.6 C56.4,161.4 57.8,160.5 59.7,159.7 C61.7,158.9 64.5,158.5 67.0,158.0 C69.5,157.5 71.9,157.1 74.4,156.8 C76.9,156.5 78.4,156.2 81.8,156.0 C85.2,155.8 89.0,155.9 95.0,155.6 C101.0,155.3 110.8,154.8 118.0,154.4 C125.2,154.0 133.3,153.5 138.0,153.2 C142.7,152.9 144.0,152.7 146.0,152.4 C148.0,152.1 149.1,151.9 150.0,151.6 C150.9,151.3 151.5,149.2 151.7,150.6 C151.9,152.0 151.6,157.1 151.4,160.0 C151.2,162.9 150.9,165.9 150.5,168.0 C150.1,170.1 149.8,171.2 149.0,172.5 C148.2,173.8 147.5,174.7 146.0,175.5 C144.5,176.3 143.0,177.0 140.0,177.6 C137.0,178.2 133.3,178.7 128.0,179.3 C122.7,179.9 113.5,180.5 108.0,181.2 C102.5,181.9 99.4,182.9 95.0,183.3 C90.6,183.7 85.2,183.5 81.8,183.6 C78.4,183.7 76.9,183.7 74.4,184.0 C71.9,184.3 69.9,184.8 67.0,185.4 C64.1,186.0 59.5,187.0 56.8,187.6 C54.1,188.2 51.9,188.8 50.9,189.0" fill="none" stroke="#ee5aa8" stroke-width="1.1"/>
<line x1="52" y1="127" x2="61" y2="127" stroke="#f0962a" stroke-width="1.3"/>
<text x="63.8" y="128.7" font-size="4.7" text-anchor="start" fill="#8c1c30" font-weight="normal" >1 mol L<tspan font-size="3.4" dy="-1.8">-1</tspan><tspan dy="1.8"> LiTFSI</tspan></text>
<line x1="52" y1="135.3" x2="61" y2="135.3" stroke="#ee5aa8" stroke-width="1.3"/>
<text x="63.8" y="137.0" font-size="4.7" text-anchor="start" fill="#8c1c30" font-weight="normal" >1 mol L<tspan font-size="3.4" dy="-1.8">-1</tspan><tspan dy="1.8"> LiTFSI+0.05 mol L</tspan><tspan font-size="3.4" dy="-1.8">-1</tspan><tspan dy="1.8"> EV</tspan></text>
<line x1="52" y1="143.8" x2="61" y2="143.8" stroke="#2a9a90" stroke-width="1.3"/>
<text x="63.8" y="145.5" font-size="4.7" text-anchor="start" fill="#8c1c30" font-weight="normal" >1 mol L<tspan font-size="3.4" dy="-1.8">-1</tspan><tspan dy="1.8"> LiTFSI+0.05 mol L</tspan><tspan font-size="3.4" dy="-1.8">-1</tspan><tspan dy="1.8"> BV</tspan></text>
<text x="168.6" y="119.7" font-size="13.4" text-anchor="start" fill="#111" font-weight="bold" >(f)</text>
<polyline points="197.5,172.5 197.5,118.75 251.25,108.75 290,121.25 290,185" fill="none" stroke="#c8c8c8" stroke-width="0.6"/>
<line x1="251.25" y1="108.75" x2="251.25" y2="167" stroke="#d8d8d8" stroke-width="0.5"/>
<polyline points="197.5,172.5 251.25,167 290,185" fill="none" stroke="#d8d8d8" stroke-width="0.5"/>
<polyline points="197.5,132.2 251.25,123.3 290,137.2" fill="none" stroke="#ececec" stroke-width="0.4"/>
<polyline points="197.5,145.6 251.25,137.9 290,153.1" fill="none" stroke="#ececec" stroke-width="0.4"/>
<polyline points="197.5,159.1 251.25,152.4 290,169.1" fill="none" stroke="#ececec" stroke-width="0.4"/>
<line x1="210.9" y1="116.2" x2="210.9" y2="171.1" stroke="#ececec" stroke-width="0.4"/>
<line x1="260.9" y1="111.9" x2="260.9" y2="171.5" stroke="#ececec" stroke-width="0.4"/>
<line x1="224.4" y1="113.8" x2="224.4" y2="169.8" stroke="#ececec" stroke-width="0.4"/>
<line x1="270.6" y1="115.0" x2="270.6" y2="176.0" stroke="#ececec" stroke-width="0.4"/>
<line x1="237.8" y1="111.2" x2="237.8" y2="168.4" stroke="#ececec" stroke-width="0.4"/>
<line x1="280.3" y1="118.1" x2="280.3" y2="180.5" stroke="#ececec" stroke-width="0.4"/>
<path d="M245.5,166.25 L245.5,128.49 A2.25,0.99 0 0 1 250,128.49 L250,166.25 A2.25,0.99 0 0 1 245.5,166.25Z" fill="url(#tg)"/>
<path d="M245.5,166.25 L245.5,128.49 A2.25,0.99 0 0 1 250,128.49 L250,166.25 A2.25,0.99 0 0 1 245.5,166.25Z" fill="url(#cyl)"/>
<path d="M248.75,168 L248.75,132.075 A1.875,0.825 0 0 1 252.5,132.075 L252.5,168 A1.875,0.825 0 0 1 248.75,168Z" fill="url(#tg)"/>
<path d="M248.75,168 L248.75,132.075 A1.875,0.825 0 0 1 252.5,132.075 L252.5,168 A1.875,0.825 0 0 1 248.75,168Z" fill="url(#cyl)"/>
<path d="M254.5,171.25 L254.5,139.685 A2.125,0.935 0 0 1 258.75,139.685 L258.75,171.25 A2.125,0.935 0 0 1 254.5,171.25Z" fill="url(#tg)"/>
<path d="M254.5,171.25 L254.5,139.685 A2.125,0.935 0 0 1 258.75,139.685 L258.75,171.25 A2.125,0.935 0 0 1 254.5,171.25Z" fill="url(#cyl)"/>
<path d="M262,176.25 L262,147.935 A2.125,0.935 0 0 1 266.25,147.935 L266.25,176.25 A2.125,0.935 0 0 1 262,176.25Z" fill="url(#tg)"/>
<path d="M262,176.25 L262,147.935 A2.125,0.935 0 0 1 266.25,147.935 L266.25,176.25 A2.125,0.935 0 0 1 262,176.25Z" fill="url(#cyl)"/>
<path d="M269.5,181.25 L269.5,155.935 A2.125,0.935 0 0 1 273.75,155.935 L273.75,181.25 A2.125,0.935 0 0 1 269.5,181.25Z" fill="url(#tg)"/>
<path d="M269.5,181.25 L269.5,155.935 A2.125,0.935 0 0 1 273.75,155.935 L273.75,181.25 A2.125,0.935 0 0 1 269.5,181.25Z" fill="url(#cyl)"/>
<path d="M228.75,172.5 L228.75,117.185 A2.125,0.935 0 0 1 233,117.185 L233,172.5 A2.125,0.935 0 0 1 228.75,172.5Z" fill="url(#pg)"/>
<path d="M228.75,172.5 L228.75,117.185 A2.125,0.935 0 0 1 233,117.185 L233,172.5 A2.125,0.935 0 0 1 228.75,172.5Z" fill="url(#cyl)"/>
<path d="M232,174 L232,120.836 A1.9000000000000057,0.8360000000000025 0 0 1 235.8,120.836 L235.8,174 A1.9000000000000057,0.8360000000000025 0 0 1 232,174Z" fill="url(#pg)"/>
<path d="M232,174 L232,120.836 A1.9000000000000057,0.8360000000000025 0 0 1 235.8,120.836 L235.8,174 A1.9000000000000057,0.8360000000000025 0 0 1 232,174Z" fill="url(#cyl)"/>
<path d="M237.5,177.5 L237.5,132.185 A2.125,0.935 0 0 1 241.75,132.185 L241.75,177.5 A2.125,0.935 0 0 1 237.5,177.5Z" fill="url(#pg)"/>
<path d="M237.5,177.5 L237.5,132.185 A2.125,0.935 0 0 1 241.75,132.185 L241.75,177.5 A2.125,0.935 0 0 1 237.5,177.5Z" fill="url(#cyl)"/>
<path d="M244.5,181.25 L244.5,140.49 A2.25,0.99 0 0 1 249,140.49 L249,181.25 A2.25,0.99 0 0 1 244.5,181.25Z" fill="url(#pg)"/>
<path d="M244.5,181.25 L244.5,140.49 A2.25,0.99 0 0 1 249,140.49 L249,181.25 A2.25,0.99 0 0 1 244.5,181.25Z" fill="url(#cyl)"/>
<path d="M252,186.25 L252,146.1 A2.5,1.1 0 0 1 257,146.1 L257,186.25 A2.5,1.1 0 0 1 252,186.25Z" fill="url(#pg)"/>
<path d="M252,186.25 L252,146.1 A2.5,1.1 0 0 1 257,146.1 L257,186.25 A2.5,1.1 0 0 1 252,186.25Z" fill="url(#cyl)"/>
<path d="M212,176.25 L212,161.1 A2.5,1.1 0 0 1 217,161.1 L217,176.25 A2.5,1.1 0 0 1 212,176.25Z" fill="url(#og)"/>
<path d="M212,176.25 L212,161.1 A2.5,1.1 0 0 1 217,161.1 L217,176.25 A2.5,1.1 0 0 1 212,176.25Z" fill="url(#cyl)"/>
<path d="M219.5,181.25 L219.5,167.24 A2.25,0.99 0 0 1 224,167.24 L224,181.25 A2.25,0.99 0 0 1 219.5,181.25Z" fill="url(#og)"/>
<path d="M219.5,181.25 L219.5,167.24 A2.25,0.99 0 0 1 224,167.24 L224,181.25 A2.25,0.99 0 0 1 219.5,181.25Z" fill="url(#cyl)"/>
<path d="M226.25,186.25 L226.25,172.24 A2.25,0.99 0 0 1 230.75,172.24 L230.75,186.25 A2.25,0.99 0 0 1 226.25,186.25Z" fill="url(#og)"/>
<path d="M226.25,186.25 L226.25,172.24 A2.25,0.99 0 0 1 230.75,172.24 L230.75,186.25 A2.25,0.99 0 0 1 226.25,186.25Z" fill="url(#cyl)"/>
<path d="M233,191 L233,178.6 A2.5,1.1 0 0 1 238,178.6 L238,191 A2.5,1.1 0 0 1 233,191Z" fill="url(#og)"/>
<path d="M233,191 L233,178.6 A2.5,1.1 0 0 1 238,178.6 L238,191 A2.5,1.1 0 0 1 233,191Z" fill="url(#cyl)"/>
<polyline points="197.5,172.5 231.5,201.5 290,183.5" fill="none" stroke="#444" stroke-width="0.7"/>
<line x1="290" y1="121.25" x2="290" y2="185" stroke="#444" stroke-width="0.7"/>
<text transform="translate(292.8,126.8) rotate(-60)" font-size="5" fill="#333">100</text>
<text transform="translate(292.8,142.8) rotate(-60)" font-size="5" fill="#333">75</text>
<text transform="translate(292.8,159) rotate(-60)" font-size="5" fill="#333">50</text>
<text transform="translate(292.8,174.5) rotate(-60)" font-size="5" fill="#333">25</text>
<text transform="translate(292.8,189) rotate(-60)" font-size="5" fill="#333">0</text>
<text transform="translate(302,154) rotate(-90)" font-size="5.9" text-anchor="middle" fill="#222">Specific capacity (mA h g<tspan font-size="3.6" dy="-2">-1</tspan><tspan dy="2">)</tspan></text>
<text transform="translate(205.6,193.6) rotate(39.5)" font-size="5.8" text-anchor="middle" fill="#222">Current density (A g<tspan font-size="3.6" dy="-2">-1</tspan><tspan dy="2">)</tspan></text>
<text transform="translate(198.8,178.7) rotate(40)" font-size="3.6" text-anchor="middle" fill="#333">1</text>
<text transform="translate(205.1,184.1) rotate(40)" font-size="3.6" text-anchor="middle" fill="#333">2</text>
<text transform="translate(211.4,189.5) rotate(40)" font-size="3.6" text-anchor="middle" fill="#333">5</text>
<text transform="translate(217.7,194.8) rotate(40)" font-size="3.6" text-anchor="middle" fill="#333">8</text>
<text transform="translate(224.0,200.2) rotate(40)" font-size="3.6" text-anchor="middle" fill="#333">10</text>
<text transform="translate(243.8,197) rotate(55)" font-size="3.2" fill="#a02030">1 mol L<tspan font-size="2.2" dy="-1">-1</tspan><tspan dy="1.2"> LiTFSI</tspan></text>
<text transform="translate(262.5,193) rotate(55)" font-size="3.2" fill="#a02030">1 mol L<tspan font-size="2.2" dy="-1">-1</tspan><tspan dy="1.2"> LiTFSI</tspan><tspan x="-0.5" dy="3.5">+0.05 mol L</tspan><tspan font-size="2.6" dy="-1.2">-1</tspan><tspan dy="1.2"> EV</tspan></text>
<text transform="translate(280.5,187) rotate(55)" font-size="3.2" fill="#a02030">1 mol L<tspan font-size="2.2" dy="-1">-1</tspan><tspan dy="1.2"> LiTFSI</tspan><tspan x="-0.5" dy="3.5">+0.05 mol L</tspan><tspan font-size="2.6" dy="-1.2">-1</tspan><tspan dy="1.2"> BV</tspan></text>
<text x="319.5" y="119.7" font-size="13.4" text-anchor="start" fill="#111" font-weight="bold" >(g)</text>
<rect x="342.3" y="113.8" width="10.4" height="99.7" fill="#e4ecf5"/>
<rect x="356.5" y="113.8" width="150" height="99.7" fill="url(#gbg)"/>
<rect x="352.4" y="113.8" width="4.3" height="99.7" fill="url(#coll)"/>
<rect x="342.3" y="163" width="10.4" height="3.2" fill="url(#tab)"/>
<rect x="345" y="159.6" width="3.6" height="1.1" fill="#e01818"/>
<path d="M360.5,126.5 C360,122 361,118 361.3,114.2 L364.6,114.2 C364.2,117 364.6,119.5 366,121 C367,118.5 367,116.5 367.4,114.6 L370.6,115 C370.6,118 370.2,121 371.6,122.5 C373.6,123 375.8,122 376.8,120 L379.8,121.5 C379,124.5 377,126.8 373,127.2 L362,127.6 Z" fill="#6a6a72"/>
<path d="M358,128.5 C361,126 365,126.4 368.5,126.8 C372.5,127.2 376.2,128 378.4,130.6 C379.4,133.2 377.8,135.6 374.8,136.4 C370.8,137.4 366,135.8 362,136.8 C359.5,137.2 358,135.6 358,133.2 Z" fill="#35353a"/>
<path d="M378.6,128 C379,126.6 381,126.4 381.4,128 L381.7,131.6 L385.2,131.2 C385.2,129 385.8,127.6 387.2,128 C388.4,129.5 388,133 387.6,135.5 C387.2,137.8 386.6,139.3 385.6,139 C384.8,137.4 385.2,135 385,133.8 L381.8,134.2 C381.6,136 381.8,138.2 380.6,139 C379.4,139.2 378.8,137.2 378.8,135.2 Z" fill="#4a4a50"/>
<path d="M361,137.5 C363.5,136.5 366,137.5 367,139.5 C368.5,137.8 370.5,137.5 371.2,139 C370.5,141.5 368.5,143 368.5,145 C368.3,146.8 366.5,147.6 364.5,147 C362.5,146 363,143.5 362,141.5 C361.2,140.2 360.5,138.8 361,137.5Z" fill="#606068"/>
<path d="M358,146 C361,144 365,145 368.5,144.6 C372,144 375,142.5 377.5,141.4 C379,142.5 378.8,144.5 380.5,144.8 C382,143 383.6,142.5 383.8,144.5 C383.6,147 381,149 380.5,151.5 C380.2,154.5 382,157 380,159.5 C377,161 373,159.6 369,160.4 C365,161.2 361,160.6 358,161 Z" fill="#35353a"/>
<path d="M357,161 C361,160 366,160.5 370,161 C374,161.5 376.5,163.5 376,166 C375,168.2 371,168 367,168.2 C363,168.4 359.5,168.5 357,168 Z" fill="#35353a"/>
<path d="M375.5,181 C377.5,176 380,171 383,167.5 C384.8,171.5 385.5,176 388,180.5 C384,181.8 379.5,181.8 375.5,181Z" fill="#505056"/>
<path d="M375.8,175.2 C375.9,175.9 375.4,176.7 374.3,177.2 C373.3,177.8 371.4,178.3 369.5,178.5 C367.7,178.8 365.2,178.9 363.3,178.6 C361.5,178.4 359.9,177.8 358.7,177.2 C357.5,176.6 356.1,175.8 356.4,175.2 C356.6,174.6 359.0,174.1 360.2,173.6 C361.5,173.1 362.2,172.5 363.7,172.2 C365.3,171.9 367.9,171.6 369.7,171.8 C371.4,171.9 373.1,172.7 374.1,173.2 C375.1,173.8 375.8,174.5 375.8,175.2Z" fill="#5a5a60"/>
<path d="M379.9,183.0 C379.5,183.7 376.9,184.3 375.6,184.9 C374.3,185.5 373.5,186.3 371.9,186.6 C370.4,186.8 368.1,186.5 366.3,186.3 C364.5,186.1 362.4,185.8 361.2,185.3 C360.0,184.7 359.0,183.7 359.2,183.0 C359.5,182.3 361.5,181.7 362.7,181.2 C363.8,180.6 364.9,180.0 366.4,179.8 C367.9,179.5 369.8,179.6 371.7,179.7 C373.6,179.8 376.5,179.9 377.8,180.4 C379.2,181.0 380.2,182.3 379.9,183.0Z" fill="#606066"/>
<path d="M384.2,191.8 C384.2,192.7 382.3,193.6 381.5,194.5 C380.6,195.4 380.0,197.0 378.9,197.3 C377.8,197.5 376.0,196.5 374.6,196.1 C373.2,195.7 371.3,195.7 370.6,195.0 C369.9,194.3 370.2,192.7 370.4,191.8 C370.6,190.9 371.3,190.2 371.9,189.3 C372.5,188.4 373.0,186.5 374.0,186.2 C375.1,185.9 377.2,186.9 378.4,187.4 C379.7,187.8 380.6,188.3 381.6,189.1 C382.5,189.8 384.2,190.9 384.2,191.8Z" fill="#35353a"/>
<path d="M377.9,197.8 C377.8,198.7 376.9,199.9 375.5,200.5 C374.2,201.2 371.7,201.2 369.8,201.5 C367.8,201.8 365.4,202.6 363.7,202.3 C361.9,202.1 360.3,201.1 359.2,200.3 C358.1,199.5 356.9,198.6 357.0,197.8 C357.1,197.0 358.9,196.3 360.0,195.5 C361.1,194.8 362.0,193.6 363.7,193.3 C365.4,192.9 368.1,193.3 370.1,193.6 C372.1,193.9 374.5,194.3 375.8,195.0 C377.1,195.7 377.9,196.9 377.9,197.8Z" fill="#58585e"/>
<path d="M387.9,207.5 C387.9,208.4 385.4,209.5 384.0,210.3 C382.5,211.1 381.0,211.9 379.0,212.4 C377.0,212.8 374.3,212.9 372.0,212.8 C369.7,212.8 367.2,212.6 365.4,212.1 C363.5,211.6 361.9,210.9 360.8,210.1 C359.6,209.3 358.5,208.4 358.2,207.5 C357.9,206.6 357.9,205.3 359.1,204.5 C360.4,203.8 363.5,203.6 365.6,203.1 C367.8,202.6 369.8,201.5 372.0,201.5 C374.2,201.4 377.0,202.1 379.0,202.7 C381.0,203.2 382.5,203.9 384.0,204.7 C385.5,205.5 387.9,206.6 387.9,207.5Z" fill="#35353a"/>
<path d="M366.1,189.5 C366.2,190.2 365.2,191.2 364.5,191.7 C363.7,192.3 362.5,192.5 361.5,192.5 C360.5,192.5 359.3,192.3 358.5,191.7 C357.8,191.2 357.0,190.2 357.0,189.5 C357.1,188.8 358.2,188.1 358.9,187.5 C359.7,186.9 360.6,185.8 361.5,185.8 C362.4,185.8 363.3,187.0 364.0,187.6 C364.8,188.2 366.0,188.8 366.1,189.5Z" fill="#48484e"/>
<path d="M387.8,203.0 C387.9,204.0 387.4,205.9 386.7,206.5 C386.1,207.2 384.9,206.9 384.0,206.8 C383.1,206.8 381.9,207.1 381.3,206.5 C380.8,205.8 380.6,204.1 380.6,203.0 C380.7,201.9 380.9,200.4 381.5,199.7 C382.0,199.1 383.2,199.1 384.0,199.2 C384.8,199.2 385.5,199.6 386.1,200.3 C386.8,200.9 387.7,202.0 387.8,203.0Z" fill="#505056"/>
<circle cx="360" cy="122" r="2.3" fill="url(#yb)"/>
<path d="M359.08,122 L360.92,121.54" stroke="#704000" stroke-width="0.5"/>
<circle cx="372.4" cy="119.7" r="2.3" fill="url(#yb)"/>
<path d="M371.47999999999996,119.7 L373.32,119.24000000000001" stroke="#704000" stroke-width="0.5"/>
<circle cx="360" cy="134.7" r="2.0" fill="url(#ob)"/>
<circle cx="376" cy="127.6" r="2.0" fill="url(#ob)"/>
<circle cx="374.2" cy="139" r="2.0" fill="url(#ob)"/>
<circle cx="360" cy="142.6" r="2.0" fill="url(#ob)"/>
<circle cx="374.2" cy="145.3" r="2.0" fill="url(#ob)"/>
<circle cx="360" cy="158" r="2.0" fill="url(#ob)"/>
<circle cx="384.2" cy="154.5" r="2.3" fill="url(#yb)"/>
<path d="M383.28,154.5 L385.12,154.04" stroke="#704000" stroke-width="0.5"/>
<circle cx="360" cy="169.2" r="2.3" fill="url(#yb)"/>
<path d="M359.08,169.2 L360.92,168.73999999999998" stroke="#704000" stroke-width="0.5"/>
<circle cx="366.2" cy="172" r="2.0" fill="url(#ob)"/>
<circle cx="376" cy="171.5" r="2.3" fill="url(#yb)"/>
<path d="M375.08,171.5 L376.92,171.04" stroke="#704000" stroke-width="0.5"/>
<circle cx="360" cy="187.9" r="2.0" fill="url(#ob)"/>
<circle cx="364.1" cy="192.6" r="2.3" fill="url(#yb)"/>
<path d="M363.18,192.6 L365.02000000000004,192.14" stroke="#704000" stroke-width="0.5"/>
<circle cx="379.5" cy="196.2" r="2.0" fill="url(#ob)"/>
<circle cx="360.6" cy="203.2" r="2.3" fill="url(#yb)"/>
<path d="M359.68,203.2 L361.52000000000004,202.73999999999998" stroke="#704000" stroke-width="0.5"/>
<circle cx="376" cy="206.8" r="2.3" fill="url(#yb)"/>
<path d="M375.08,206.8 L376.92,206.34" stroke="#704000" stroke-width="0.5"/>
<circle cx="359.5" cy="212.4" r="2.0" fill="url(#ob)"/>
<circle cx="380.4" cy="212.2" r="2.0" fill="url(#ob)"/>
<ellipse cx="450" cy="165.5" rx="50.5" ry="43.5" fill="none" stroke="#8a50b0" stroke-width="0.8" stroke-dasharray="3,1.7"/>
<line x1="385" y1="155" x2="434" y2="122.6" stroke="#8a50b0" stroke-width="0.6" stroke-dasharray="2,1.5"/>
<line x1="385" y1="155" x2="420" y2="204.5" stroke="#8a50b0" stroke-width="0.6" stroke-dasharray="2,1.5"/>
<text x="448.3" y="142.2" font-size="6.6" text-anchor="middle" fill="#2a3470" font-weight="bold" >Redox process</text>
<polygon points="413.3,160.4 409.0,157.9 409.0,152.9 413.3,150.4 417.6,152.9 417.6,157.9" fill="none" stroke="#5a64c8" stroke-width="0.8"/>
<line x1="413.3" y1="158.9" x2="410.3" y2="157.1" stroke="#5a64c8" stroke-width="0.5"/>
<line x1="410.3" y1="153.6" x2="413.3" y2="151.9" stroke="#5a64c8" stroke-width="0.5"/>
<line x1="416.3" y1="153.6" x2="416.3" y2="157.1" stroke="#5a64c8" stroke-width="0.5"/>
<polygon points="413.3,173.0 409.0,170.5 409.0,165.5 413.3,163.0 417.6,165.5 417.6,170.5" fill="none" stroke="#5a64c8" stroke-width="0.8"/>
<line x1="413.3" y1="171.5" x2="410.3" y2="169.8" stroke="#5a64c8" stroke-width="0.5"/>
<line x1="410.3" y1="166.2" x2="413.3" y2="164.5" stroke="#5a64c8" stroke-width="0.5"/>
<line x1="416.3" y1="166.2" x2="416.3" y2="169.8" stroke="#5a64c8" stroke-width="0.5"/>
<line x1="413.3" y1="146.2" x2="413.3" y2="150.39999999999998" stroke="#555" stroke-width="0.8"/>
<line x1="413.3" y1="160.39999999999998" x2="413.3" y2="163.0" stroke="#5a64c8" stroke-width="0.8"/>
<line x1="413.3" y1="173.0" x2="413.3" y2="178.2" stroke="#555" stroke-width="0.8"/>
<circle cx="413.3" cy="145.7" r="0.9" fill="#444"/>
<circle cx="413.3" cy="178.89999999999998" r="0.9" fill="#444"/>
<circle cx="416.2" cy="150.0" r="1.3" fill="#e070c0"/>
<circle cx="410.0" cy="174.0" r="1.3" fill="#e070c0"/>
<polygon points="448.6,160.4 444.3,157.9 444.3,152.9 448.6,150.4 452.9,152.9 452.9,157.9" fill="none" stroke="#5a64c8" stroke-width="0.8"/>
<line x1="448.6" y1="158.9" x2="445.6" y2="157.1" stroke="#5a64c8" stroke-width="0.5"/>
<line x1="445.6" y1="153.6" x2="448.6" y2="151.9" stroke="#5a64c8" stroke-width="0.5"/>
<line x1="451.6" y1="153.6" x2="451.6" y2="157.1" stroke="#5a64c8" stroke-width="0.5"/>
<polygon points="448.6,173.0 444.3,170.5 444.3,165.5 448.6,163.0 452.9,165.5 452.9,170.5" fill="none" stroke="#5a64c8" stroke-width="0.8"/>
<line x1="448.6" y1="171.5" x2="445.6" y2="169.8" stroke="#5a64c8" stroke-width="0.5"/>
<line x1="445.6" y1="166.2" x2="448.6" y2="164.5" stroke="#5a64c8" stroke-width="0.5"/>
<line x1="451.6" y1="166.2" x2="451.6" y2="169.8" stroke="#5a64c8" stroke-width="0.5"/>
<line x1="448.6" y1="146.2" x2="448.6" y2="150.39999999999998" stroke="#555" stroke-width="0.8"/>
<line x1="448.6" y1="160.39999999999998" x2="448.6" y2="163.0" stroke="#5a64c8" stroke-width="0.8"/>
<line x1="448.6" y1="173.0" x2="448.6" y2="178.2" stroke="#555" stroke-width="0.8"/>
<circle cx="448.6" cy="145.7" r="0.9" fill="#444"/>
<circle cx="448.6" cy="178.89999999999998" r="0.9" fill="#444"/>
<circle cx="445.3" cy="174.7" r="1.3" fill="#e070c0"/>
<polygon points="483.4,160.4 479.1,157.9 479.1,152.9 483.4,150.4 487.7,152.9 487.7,157.9" fill="none" stroke="#5a64c8" stroke-width="0.8"/>
<line x1="483.4" y1="158.9" x2="480.4" y2="157.1" stroke="#5a64c8" stroke-width="0.5"/>
<line x1="480.4" y1="153.6" x2="483.4" y2="151.9" stroke="#5a64c8" stroke-width="0.5"/>
<line x1="486.4" y1="153.6" x2="486.4" y2="157.1" stroke="#5a64c8" stroke-width="0.5"/>
<polygon points="483.4,173.0 479.1,170.5 479.1,165.5 483.4,163.0 487.7,165.5 487.7,170.5" fill="none" stroke="#5a64c8" stroke-width="0.8"/>
<line x1="483.4" y1="171.5" x2="480.4" y2="169.8" stroke="#5a64c8" stroke-width="0.5"/>
<line x1="480.4" y1="166.2" x2="483.4" y2="164.5" stroke="#5a64c8" stroke-width="0.5"/>
<line x1="486.4" y1="166.2" x2="486.4" y2="169.8" stroke="#5a64c8" stroke-width="0.5"/>
<line x1="483.4" y1="146.2" x2="483.4" y2="150.39999999999998" stroke="#555" stroke-width="0.8"/>
<line x1="483.4" y1="160.39999999999998" x2="483.4" y2="163.0" stroke="#5a64c8" stroke-width="0.8"/>
<line x1="483.4" y1="173.0" x2="483.4" y2="178.2" stroke="#555" stroke-width="0.8"/>
<circle cx="483.4" cy="145.7" r="0.9" fill="#444"/>
<circle cx="483.4" cy="178.89999999999998" r="0.9" fill="#444"/>
<path d="M421,162.2 L440,162.2 M422,163.8 L441,163.8" stroke="#777" stroke-width="0.9"/>
<path d="M440,162.2 L437,160.9 M422,163.8 L425,165.1" stroke="#777" stroke-width="0.7"/>
<text x="431" y="159.5" font-size="3" text-anchor="middle" fill="#333" font-weight="normal" >+ e</text>
<text x="431" y="168.8" font-size="3" text-anchor="middle" fill="#333" font-weight="normal" >- e</text>
<path d="M455.5,162.2 L474.5,162.2 M456.5,163.8 L475.5,163.8" stroke="#777" stroke-width="0.9"/>
<path d="M474.5,162.2 L471.5,160.9 M456.5,163.8 L459.5,165.1" stroke="#777" stroke-width="0.7"/>
<text x="465.5" y="159.5" font-size="3" text-anchor="middle" fill="#333" font-weight="normal" >+ e</text>
<text x="465.5" y="168.8" font-size="3" text-anchor="middle" fill="#333" font-weight="normal" >- e</text>
<ellipse cx="414.3" cy="188.4" rx="2.6" ry="2" fill="url(#yb)"/>
<ellipse cx="450.2" cy="189.6" rx="2.6" ry="2" fill="url(#yb)"/>
<ellipse cx="482.6" cy="190.5" rx="2.6" ry="2" fill="url(#yb)"/>
<text x="3.4" y="237.6" font-size="13.4" text-anchor="start" fill="#111" font-weight="bold" >(h)</text>
<rect x="35.2" y="226.8" width="114.6" height="108.3" fill="url(#hbg)"/>
<g transform="translate(0,0)"><path d="M39.5,262 L44,251.5 L48.3,241" fill="none" stroke="#78787c" stroke-width="4.6" stroke-linecap="round" stroke-linejoin="round"/><path d="M37.8,257 L44,252.5" fill="none" stroke="#78787c" stroke-width="3.4" stroke-linecap="round" stroke-linejoin="round"/><path d="M51.5,262.5 L55.5,253 L59.5,245" fill="none" stroke="#3c3c40" stroke-width="5.4" stroke-linecap="round" stroke-linejoin="round"/><path d="M52,233.6 L60.5,232.4" fill="none" stroke="#58585c" stroke-width="2.3" stroke-linecap="round" stroke-linejoin="round"/><path d="M51,238.4 L59.8,237.8" fill="none" stroke="#58585c" stroke-width="2.3" stroke-linecap="round" stroke-linejoin="round"/><path d="M56.4,231.2 L55.9,239.4" fill="none" stroke="#58585c" stroke-width="2.1" stroke-linecap="round" stroke-linejoin="round"/><path d="M71.5,232.5 C74.5,231 76.8,235 78.2,239 C82,238.2 88,238 92,240 C93.4,243 90.5,246 87.2,246.2 C89,251 88.2,257 85.2,260.6 C82,262.2 79,261.2 77,259 C74.2,257 73.2,253 74,249.2 C71,248.2 68.2,246.2 67.6,243.4 C70,242 73,242.8 75,243 C74,240 71.8,236.5 71.5,232.5Z" fill="#3c3c40"/><path d="M66.8,252.5 L73.8,254.5" fill="none" stroke="#78787c" stroke-width="3.8" stroke-linecap="round" stroke-linejoin="round"/><path d="M89.2,260.2 L100.6,248" fill="none" stroke="#3c3c40" stroke-width="4.6" stroke-linecap="round" stroke-linejoin="round"/><path d="M96.5,235 C100,232.5 106,230.5 110,231.5 C110.8,236 109.5,241 107,246 C104,244 100.5,240 96.5,237.5Z" fill="#58585c"/><path d="M104.2,247 C107,245 110,248 112,247 C114.5,246 117.5,248 118.8,251 C119.4,255 117.5,259 118.8,262.5 C115.5,263.5 112,263 111,260 C109.5,262.5 106,263.2 104.5,261.5 C105.5,257 103.5,251 104.2,247Z" fill="#3c3c40"/><path d="M114,240.5 C117,239 121,240 123.5,241.5 C126.5,243 127,247 125.5,250 C123,251 120.5,249 119,247.5 C117,246 114.5,244 114,240.5Z" fill="#3c3c40"/><path d="M120.5,239.5 L123.5,236.5 L127.4,236.2" fill="none" stroke="#58585c" stroke-width="2.4" stroke-linecap="round" stroke-linejoin="round"/><path d="M132.6,232.5 C134.5,230.5 137,231.5 138.5,233.5 C140.5,235.5 141.5,238 139.8,239.6 C137.5,240 135,238.5 133.5,236.5 C132.5,235.2 132.2,233.8 132.6,232.5Z" fill="#58585c"/><path d="M127.6,246 C130,242 134,241.5 136,243.5 C137.5,246 137.2,251 135.5,254 C137.5,252 139,247 138.5,243 C140.5,241 144,241.5 146.5,243.5 C148.2,247 147,251 145.4,254 C144,257 145.2,260.5 144,263 C141,263.5 138,263 137.5,260 C135,261.5 131,263 128.2,262.2 C127.5,259 130.5,256.5 130.8,253.5 C129.2,251.5 127.2,249 127.6,246Z" fill="#3c3c40"/><path d="M38,262 C39,256 42,250 45,246 C47,243 49,241 50.5,241.5 C51,244 49,247 48,250 C47,254 46.5,258 46,262.5 Z" fill="#78787c"/><path d="M60.5,250 C62,247 65,246 67,247.5 C67.5,250 66,253 65,256 C64,259 62,262 59.5,262.5 C58.5,259 59,254 60.5,250Z" fill="#58585c"/><path d="M111.5,252 C114,250.5 117,251.5 119,253 C120,256 119.5,260 118.5,263 C116,263.8 113,263.5 111.6,262 C111,259 111,255 111.5,252Z" fill="#58585c"/><path d="M112,233 C115,231.5 119,232 122,233.5 C123.5,235.5 121.5,237.5 119,238 C116.5,238.5 113.5,237.5 112.5,236 C111.8,235 111.7,234 112,233Z" fill="#58585c"/><path d="M97,247 C99,245.5 101.5,246 103,247.5 C103.8,250 103,253 102,255.5 C100.5,257 98.5,256 97.5,254 C96.8,251.5 96.5,249 97,247Z" fill="#78787c"/><path d="M83,234 C85,232.5 88,233 89.5,234.5 C90,236.5 88.5,238 86.5,238.2 C84.5,238 83,236 83,234Z" fill="#58585c"/><path d="M139.5,255 C141.5,253.5 144,254 145.5,256 C146,259 145.5,262 144,263.5 C142,264 140,263 139.5,261 C139,259 139,257 139.5,255Z" fill="#3c3c40"/></g>
<g transform="translate(0,53.8)"><path d="M39.5,262 L44,251.5 L48.3,241" fill="none" stroke="#78787c" stroke-width="4.6" stroke-linecap="round" stroke-linejoin="round"/><path d="M37.8,257 L44,252.5" fill="none" stroke="#78787c" stroke-width="3.4" stroke-linecap="round" stroke-linejoin="round"/><path d="M51.5,262.5 L55.5,253 L59.5,245" fill="none" stroke="#3c3c40" stroke-width="5.4" stroke-linecap="round" stroke-linejoin="round"/><path d="M52,233.6 L60.5,232.4" fill="none" stroke="#58585c" stroke-width="2.3" stroke-linecap="round" stroke-linejoin="round"/><path d="M51,238.4 L59.8,237.8" fill="none" stroke="#58585c" stroke-width="2.3" stroke-linecap="round" stroke-linejoin="round"/><path d="M56.4,231.2 L55.9,239.4" fill="none" stroke="#58585c" stroke-width="2.1" stroke-linecap="round" stroke-linejoin="round"/><path d="M71.5,232.5 C74.5,231 76.8,235 78.2,239 C82,238.2 88,238 92,240 C93.4,243 90.5,246 87.2,246.2 C89,251 88.2,257 85.2,260.6 C82,262.2 79,261.2 77,259 C74.2,257 73.2,253 74,249.2 C71,248.2 68.2,246.2 67.6,243.4 C70,242 73,242.8 75,243 C74,240 71.8,236.5 71.5,232.5Z" fill="#3c3c40"/><path d="M66.8,252.5 L73.8,254.5" fill="none" stroke="#78787c" stroke-width="3.8" stroke-linecap="round" stroke-linejoin="round"/><path d="M89.2,260.2 L100.6,248" fill="none" stroke="#3c3c40" stroke-width="4.6" stroke-linecap="round" stroke-linejoin="round"/><path d="M96.5,235 C100,232.5 106,230.5 110,231.5 C110.8,236 109.5,241 107,246 C104,244 100.5,240 96.5,237.5Z" fill="#58585c"/><path d="M104.2,247 C107,245 110,248 112,247 C114.5,246 117.5,248 118.8,251 C119.4,255 117.5,259 118.8,262.5 C115.5,263.5 112,263 111,260 C109.5,262.5 106,263.2 104.5,261.5 C105.5,257 103.5,251 104.2,247Z" fill="#3c3c40"/><path d="M114,240.5 C117,239 121,240 123.5,241.5 C126.5,243 127,247 125.5,250 C123,251 120.5,249 119,247.5 C117,246 114.5,244 114,240.5Z" fill="#3c3c40"/><path d="M120.5,239.5 L123.5,236.5 L127.4,236.2" fill="none" stroke="#58585c" stroke-width="2.4" stroke-linecap="round" stroke-linejoin="round"/><path d="M132.6,232.5 C134.5,230.5 137,231.5 138.5,233.5 C140.5,235.5 141.5,238 139.8,239.6 C137.5,240 135,238.5 133.5,236.5 C132.5,235.2 132.2,233.8 132.6,232.5Z" fill="#58585c"/><path d="M127.6,246 C130,242 134,241.5 136,243.5 C137.5,246 137.2,251 135.5,254 C137.5,252 139,247 138.5,243 C140.5,241 144,241.5 146.5,243.5 C148.2,247 147,251 145.4,254 C144,257 145.2,260.5 144,263 C141,263.5 138,263 137.5,260 C135,261.5 131,263 128.2,262.2 C127.5,259 130.5,256.5 130.8,253.5 C129.2,251.5 127.2,249 127.6,246Z" fill="#3c3c40"/><path d="M38,262 C39,256 42,250 45,246 C47,243 49,241 50.5,241.5 C51,244 49,247 48,250 C47,254 46.5,258 46,262.5 Z" fill="#78787c"/><path d="M60.5,250 C62,247 65,246 67,247.5 C67.5,250 66,253 65,256 C64,259 62,262 59.5,262.5 C58.5,259 59,254 60.5,250Z" fill="#58585c"/><path d="M111.5,252 C114,250.5 117,251.5 119,253 C120,256 119.5,260 118.5,263 C116,263.8 113,263.5 111.6,262 C111,259 111,255 111.5,252Z" fill="#58585c"/><path d="M112,233 C115,231.5 119,232 122,233.5 C123.5,235.5 121.5,237.5 119,238 C116.5,238.5 113.5,237.5 112.5,236 C111.8,235 111.7,234 112,233Z" fill="#58585c"/><path d="M97,247 C99,245.5 101.5,246 103,247.5 C103.8,250 103,253 102,255.5 C100.5,257 98.5,256 97.5,254 C96.8,251.5 96.5,249 97,247Z" fill="#78787c"/><path d="M83,234 C85,232.5 88,233 89.5,234.5 C90,236.5 88.5,238 86.5,238.2 C84.5,238 83,236 83,234Z" fill="#58585c"/><path d="M139.5,255 C141.5,253.5 144,254 145.5,256 C146,259 145.5,262 144,263.5 C142,264 140,263 139.5,261 C139,259 139,257 139.5,255Z" fill="#3c3c40"/></g>
<rect x="38.5" y="265.4" width="110" height="4.8" fill="url(#hbar)"/>
<rect x="38.5" y="319.2" width="110" height="4.8" fill="url(#hbar)"/>
<circle cx="64.6" cy="235" r="2.2" fill="url(#ob)"/>
<circle cx="59.5" cy="242.4" r="2.2" fill="url(#ob)"/>
<circle cx="67.1" cy="246.8" r="2.2" fill="url(#ob)"/>
<circle cx="54.8" cy="261.8" r="2.2" fill="url(#ob)"/>
<circle cx="61.7" cy="262" r="2.2" fill="url(#ob)"/>
<circle cx="68.6" cy="261.5" r="2.2" fill="url(#ob)"/>
<circle cx="93.1" cy="246.8" r="2.2" fill="url(#ob)"/>
<circle cx="99.8" cy="243.1" r="2.2" fill="url(#ob)"/>
<circle cx="103.4" cy="254.9" r="2.2" fill="url(#ob)"/>
<circle cx="113.7" cy="237.5" r="2.2" fill="url(#ob)"/>
<circle cx="110.8" cy="252" r="2.2" fill="url(#ob)"/>
<circle cx="122.6" cy="253.4" r="2.2" fill="url(#ob)"/>
<circle cx="125.5" cy="238" r="2.2" fill="url(#ob)"/>
<circle cx="121.1" cy="261.6" r="2.2" fill="url(#ob)"/>
<circle cx="97.6" cy="261.5" r="2.2" fill="url(#ob)"/>
<circle cx="137.3" cy="243.9" r="2.2" fill="url(#ob)"/>
<circle cx="47.6" cy="291.4" r="3.5" fill="url(#yb2)"/>
<circle cx="68" cy="290.4" r="3.5" fill="url(#yb2)"/>
<circle cx="81.5" cy="291.4" r="3.5" fill="url(#yb2)"/>
<circle cx="41.7" cy="303" r="3.5" fill="url(#yb2)"/>
<circle cx="63.7" cy="305.4" r="3.5" fill="url(#yb2)"/>
<circle cx="94.8" cy="293.3" r="3.5" fill="url(#yb2)"/>
<circle cx="101.6" cy="299.2" r="3.5" fill="url(#yb2)"/>
<circle cx="114.2" cy="292.4" r="3.5" fill="url(#yb2)"/>
<circle cx="127.8" cy="294.3" r="3.5" fill="url(#yb2)"/>
<circle cx="141.3" cy="288.5" r="3.5" fill="url(#yb2)"/>
<circle cx="79.4" cy="277.6" r="3.0" fill="url(#ob)"/>
<circle cx="81.5" cy="329.4" r="4.1" fill="url(#yb2)"/>
<text x="86.8" y="279.6" font-size="5.4" text-anchor="start" fill="#3c4a78" font-weight="normal" >Ion with smaller size</text>
<text x="89.7" y="331.5" font-size="5.4" text-anchor="start" fill="#3c4a78" font-weight="normal" >Ion with bigger size</text>
<text x="169" y="237.6" font-size="13.4" text-anchor="start" fill="#111" font-weight="bold" >(i)</text>
<text transform="translate(214.3,241.9) scale(0.78,1)" font-size="8.6" font-weight="bold" text-anchor="start" fill="#111" stroke="#111" stroke-width="0.35">CH<tspan font-size="5.4">3</tspan></text>
<text transform="translate(196.9,249.6) scale(0.78,1)" font-size="8.6" font-weight="bold" text-anchor="middle" fill="#d01818" stroke="#d01818" stroke-width="0.35">O</text>
<text transform="translate(205.4,258.8) scale(0.78,1)" font-size="8.6" font-weight="bold" text-anchor="middle" fill="#111" stroke="#111" stroke-width="0.35">C</text>
<text transform="translate(216.8,258.8) scale(0.78,1)" font-size="8.6" font-weight="bold" text-anchor="middle" fill="#111" stroke="#111" stroke-width="0.35">C</text>
<text transform="translate(226.1,258.8) scale(0.78,1)" font-size="8.6" font-weight="bold" text-anchor="start" fill="#111" stroke="#111" stroke-width="0.35">CH<tspan font-size="5.4">3</tspan></text>
<text transform="translate(214.6,274) scale(0.78,1)" font-size="8.6" font-weight="bold" text-anchor="start" fill="#111" stroke="#111" stroke-width="0.35">CH<tspan font-size="5.4">3</tspan></text>
<text transform="translate(185.9,266) scale(0.78,1)" font-size="8.6" font-weight="bold" text-anchor="middle" fill="#111" stroke="#111" stroke-width="0.35">H</text>
<text transform="translate(196.6,266) scale(0.78,1)" font-size="8.6" font-weight="bold" text-anchor="middle" fill="#d01818" stroke="#d01818" stroke-width="0.35">O</text>
<path d="M199.6,249.8 L203,253.8 M198.7,250.7 L202.1,254.7" stroke="#666" stroke-width="0.7"/>
<path d="M209.2,255.4 L211.8,255.4 M221.6,255.4 L224.3,255.4 M188.3,263.1 L191,263.1" stroke="#555" stroke-width="1"/>
<path d="M216.8,244 L216.8,249 M216.8,260.8 L216.8,265.8" stroke="#999" stroke-width="1.3"/>
<path d="M199,261 L202.6,257.8" stroke="#666" stroke-width="0.7"/>
<line x1="267" y1="238" x2="269.6" y2="251" stroke="#2a2a2a" stroke-width="1.4"/>
<line x1="269.6" y1="251" x2="258.4" y2="263" stroke="#2a2a2a" stroke-width="1.4"/>
<line x1="258.4" y1="263" x2="249" y2="258.6" stroke="#2a2a2a" stroke-width="1.4"/>
<line x1="269.6" y1="251" x2="288" y2="252" stroke="#2a2a2a" stroke-width="1.4"/>
<line x1="288" y1="252" x2="283.6" y2="242" stroke="#2a2a2a" stroke-width="1.4"/>
<line x1="288" y1="252" x2="302" y2="247" stroke="#2a2a2a" stroke-width="1.4"/>
<line x1="288" y1="252" x2="288" y2="265" stroke="#2a2a2a" stroke-width="1.4"/>
<line x1="283.6" y1="242" x2="282" y2="233" stroke="#2a2a2a" stroke-width="1.4"/>
<line x1="283.6" y1="242" x2="275" y2="244" stroke="#2a2a2a" stroke-width="1.4"/>
<line x1="283.6" y1="242" x2="291" y2="242" stroke="#2a2a2a" stroke-width="1.4"/>
<line x1="302" y1="247" x2="299" y2="234" stroke="#2a2a2a" stroke-width="1.4"/>
<line x1="302" y1="247" x2="309" y2="241" stroke="#2a2a2a" stroke-width="1.4"/>
<line x1="302" y1="247" x2="308" y2="259" stroke="#2a2a2a" stroke-width="1.4"/>
<line x1="288" y1="265" x2="278" y2="269.6" stroke="#2a2a2a" stroke-width="1.4"/>
<line x1="288" y1="265" x2="290" y2="275.6" stroke="#2a2a2a" stroke-width="1.4"/>
<line x1="288" y1="265" x2="296" y2="269" stroke="#2a2a2a" stroke-width="1.4"/>
<circle cx="282" cy="233" r="2.88" fill="url(#aH)"/>
<circle cx="299" cy="234" r="3.12" fill="url(#aH)"/>
<circle cx="309" cy="241" r="2.76" fill="url(#aH)"/>
<circle cx="275" cy="244" r="2.76" fill="url(#aH)"/>
<circle cx="291" cy="242" r="2.76" fill="url(#aH)"/>
<circle cx="283.6" cy="242" r="3.84" fill="url(#aC)"/>
<circle cx="267" cy="238" r="4.32" fill="url(#aO)"/>
<circle cx="302" cy="247" r="4.08" fill="url(#aC)"/>
<circle cx="249" cy="258.6" r="3.9599999999999995" fill="url(#aH)"/>
<circle cx="269.6" cy="251" r="4.44" fill="url(#aC)"/>
<circle cx="288" cy="252" r="4.44" fill="url(#aC)"/>
<circle cx="258.4" cy="263" r="4.44" fill="url(#aO)"/>
<circle cx="308" cy="259" r="2.88" fill="url(#aH)"/>
<circle cx="278" cy="269.6" r="2.88" fill="url(#aH)"/>
<circle cx="296" cy="269" r="2.76" fill="url(#aH)"/>
<circle cx="288" cy="265" r="4.32" fill="url(#aC)"/>
<circle cx="290" cy="275.6" r="3.12" fill="url(#aH)"/>
<line x1="177" y1="280.2" x2="326" y2="280.2" stroke="#d4dce6" stroke-width="0.9"/>
<text x="195.5" y="289.1" font-size="7.6" font-weight="bold" style="font-family:Liberation Serif,serif" text-anchor="middle" fill="#111" stroke="#111" stroke-width="0.2">HO</text>
<text x="208.2" y="292" font-size="6" font-weight="bold" style="font-family:Liberation Serif,serif" text-anchor="middle" fill="#111" stroke="#111" stroke-width="0.2">H</text>
<text x="218.5" y="296.2" font-size="7.6" font-weight="bold" style="font-family:Liberation Serif,serif" text-anchor="middle" fill="#111" stroke="#111" stroke-width="0.2">O</text>
<text x="236.6" y="298.4" font-size="7.6" font-weight="bold" style="font-family:Liberation Serif,serif" text-anchor="middle" fill="#111" stroke="#111" stroke-width="0.2">O</text>
<text x="180.3" y="303.5" font-size="7.6" font-weight="bold" style="font-family:Liberation Serif,serif" text-anchor="middle" fill="#111" stroke="#111" stroke-width="0.2">OH</text>
<text x="204.5" y="320.4" font-size="7.6" font-weight="bold" style="font-family:Liberation Serif,serif" text-anchor="middle" fill="#111" stroke="#111" stroke-width="0.2">OH</text>
<text x="233.2" y="320.4" font-size="7.6" font-weight="bold" style="font-family:Liberation Serif,serif" text-anchor="middle" fill="#111" stroke="#111" stroke-width="0.2">OH</text>
<path d="M185.6,301.6 L192.8,303.2 L200.9,297.6 L210.4,299.1 L215.8,295.2 M220.4,295.2 L225.1,299.1 L224.4,309.4 L213.4,309.4 L210.4,299.1 M225.1,299.1 L233.6,296.4 M225.6,300.8 L234.1,298.1 M213.4,309.4 L209.7,315.2 M224.4,309.4 L228,315.2 M214.5,307.6 L223.3,307.6" stroke="#222" stroke-width="0.6" fill="none"/>
<path d="M200.9,297.6 L199.6,290.3 L201.2,290.3Z" fill="#222" stroke="#222" stroke-width="0.5"/>
<path d="M209.6,297.6 L211.2,297.6 M209.3,296.2 L211.5,296.2 M209,294.8 L211.8,294.8" stroke="#222" stroke-width="0.5"/>
<path d="M242.5,301.8 L266.5,301.8 L263.5,300.2 M266.5,306.2 L242.5,306.2 L245.5,307.8" fill="none" stroke="#222" stroke-width="0.6"/>
<text x="290.4" y="291.8" font-size="7.6" font-weight="bold" style="font-family:Liberation Serif,serif" text-anchor="middle" fill="#111" stroke="#111" stroke-width="0.2">HO</text>
<text x="303.6" y="294.7" font-size="6" font-weight="bold" style="font-family:Liberation Serif,serif" text-anchor="middle" fill="#111" stroke="#111" stroke-width="0.2">H</text>
<text x="312.8" y="298.4" font-size="7.6" font-weight="bold" style="font-family:Liberation Serif,serif" text-anchor="middle" fill="#111" stroke="#111" stroke-width="0.2">O</text>
<text x="274.6" y="305.7" font-size="7.6" font-weight="bold" style="font-family:Liberation Serif,serif" text-anchor="middle" fill="#111" stroke="#111" stroke-width="0.2">OH</text>
<text x="302.9" y="323.4" font-size="7.6" font-weight="bold" style="font-family:Liberation Serif,serif" text-anchor="middle" fill="#111" stroke="#111" stroke-width="0.2">O</text>
<text x="325" y="323.4" font-size="7.6" font-weight="bold" style="font-family:Liberation Serif,serif" text-anchor="middle" fill="#111" stroke="#111" stroke-width="0.2">O</text>
<path d="M280,304.3 L287.8,306.5 L295.1,299.9 L304.7,301.8 L310.3,297.2 M315.3,297.2 L321.6,302 L320.1,311.6 L307.6,311.6 L304.7,301.8 M307.6,311.6 L303.5,317.8 M309,312.4 L305,318.6 M320.1,311.6 L324,317.8 M318.7,312.4 L322.6,318.6" stroke="#222" stroke-width="0.6" fill="none"/>
<path d="M295.1,299.9 L294.3,293.2 L295.9,293.2Z" fill="#222" stroke="#222" stroke-width="0.5"/>
<path d="M303.9,300.4 L305.5,300.4 M303.6,299 L305.8,299 M303.3,297.6 L306.1,297.6" stroke="#222" stroke-width="0.5"/>
<text x="319.5" y="237.6" font-size="13.4" text-anchor="start" fill="#111" font-weight="bold" >(j)</text>
<text x="444.2" y="225.2" font-size="5.5" text-anchor="middle" fill="#e01c24" font-weight="bold" >Voltage = 2.7 V</text>
<path d="M348,250 L348,234.6 L442.6,234.6 M442.6,229.2 L442.6,239 M446.3,232.5 L446.3,236.8 M446.3,234.6 L537.3,234.6 L537.3,254.7" fill="none" stroke="#333" stroke-width="0.7"/>
<text x="348.7" y="232.8" font-size="3.95" text-anchor="start" fill="#111" font-weight="bold" >E = 35.7 Wh kg<tspan font-size="2.6" dy="-1.2">-1</tspan><tspan dy="1.2"> @ 0.5 A g</tspan><tspan font-size="2.6" dy="-1.2">-1</tspan></text>
<text x="447.6" y="233.1" font-size="4.0" text-anchor="start" fill="#111" font-weight="bold" >Capacitance retention after 10k cycles = 84.3 %</text>
<polygon points="338.8,261 351.2,251.5 351.2,305.5 338.8,315" fill="url(#slabL)"/>
<polygon points="351.2,251.5 355,248.8 355,301.2 351.2,305.5" fill="#c8c8cc"/>
<text x="345.6" y="279.2" font-size="4.1" text-anchor="middle" fill="#e01c24" font-weight="bold" >Pyrrole N</text>
<text x="345.6" y="283.8" font-size="4.1" text-anchor="middle" fill="#e01c24" font-weight="bold" >Lewis</text>
<text x="345.6" y="288.4" font-size="4.1" text-anchor="middle" fill="#e01c24" font-weight="bold" >base</text>
<polygon points="363.3,255.1 370.8,256.7 363.3,258.3" fill="url(#glowY)"/>
<circle cx="361.8" cy="256.7" r="2.9" fill="url(#yb2)" stroke="#b88000" stroke-width="0.35"/>
<polygon points="356.6,265.2 364.1,266.8 356.6,268.40000000000003" fill="url(#glowY)"/>
<circle cx="355.1" cy="266.8" r="2.9" fill="url(#yb2)" stroke="#b88000" stroke-width="0.35"/>
<polygon points="361.5,274.2 369,275.8 361.5,277.40000000000003" fill="url(#glowY)"/>
<circle cx="360" cy="275.8" r="2.9" fill="url(#yb2)" stroke="#b88000" stroke-width="0.35"/>
<polygon points="366.8,284.59999999999997 374.3,286.2 366.8,287.8" fill="url(#glowY)"/>
<circle cx="365.3" cy="286.2" r="2.9" fill="url(#yb2)" stroke="#b88000" stroke-width="0.35"/>
<polygon points="357.0,291.5 364.5,293.1 357.0,294.70000000000005" fill="url(#glowY)"/>
<circle cx="355.5" cy="293.1" r="2.9" fill="url(#yb2)" stroke="#b88000" stroke-width="0.35"/>
<polygon points="362.2,300.4 369.7,302 362.2,303.6" fill="url(#glowY)"/>
<circle cx="360.7" cy="302" r="2.9" fill="url(#yb2)" stroke="#b88000" stroke-width="0.35"/>
<polygon points="529.7,259 544.5,247.7 544.5,302.6 529.7,315.5" fill="url(#slabR)"/>
<text x="537.3" y="280.2" font-size="4.1" text-anchor="middle" fill="#e01c24" font-weight="bold" >Pyrrole N</text>
<text x="537.3" y="284.59999999999997" font-size="4.1" text-anchor="middle" fill="#e01c24" font-weight="bold" >Lewis</text>
<text x="537.3" y="289.0" font-size="4.1" text-anchor="middle" fill="#e01c24" font-weight="bold" >base</text>
<polygon points="524.7,262.0 518.2,263.1 524.7,264.20000000000005" fill="url(#glowP)"/>
<circle cx="526.2" cy="263.1" r="2.4" fill="url(#pb)"/>
<text x="526.2" y="264.1" font-size="2.6" text-anchor="middle" fill="#fff">e</text>
<polygon points="519.4,268.0 512.9,269.1 519.4,270.20000000000005" fill="url(#glowP)"/>
<circle cx="520.9" cy="269.1" r="2.4" fill="url(#pb)"/>
<text x="520.9" y="270.1" font-size="2.6" text-anchor="middle" fill="#fff">e</text>
<polygon points="522.8,280.5 516.3,281.6 522.8,282.70000000000005" fill="url(#glowP)"/>
<circle cx="524.3" cy="281.6" r="2.4" fill="url(#pb)"/>
<text x="524.3" y="282.6" font-size="2.6" text-anchor="middle" fill="#fff">e</text>
<polygon points="520.6,294.29999999999995 514.1,295.4 520.6,296.5" fill="url(#glowP)"/>
<circle cx="522.1" cy="295.4" r="2.4" fill="url(#pb)"/>
<text x="522.1" y="296.4" font-size="2.6" text-anchor="middle" fill="#fff">e</text>
<polygon points="525.5,301.2 519,302.3 525.5,303.40000000000003" fill="url(#glowP)"/>
<circle cx="527" cy="302.3" r="2.4" fill="url(#pb)"/>
<text x="527" y="303.3" font-size="2.6" text-anchor="middle" fill="#fff">e</text>
<polygon points="522.8,308.0 516.3,309.1 522.8,310.20000000000005" fill="url(#glowP)"/>
<circle cx="524.3" cy="309.1" r="2.4" fill="url(#pb)"/>
<text x="524.3" y="310.1" font-size="2.6" text-anchor="middle" fill="#fff">e</text>
<rect x="370.9" y="240.6" width="72.7" height="32" rx="3.6" fill="none" stroke="#7a9ae6" stroke-width="0.55" stroke-dasharray="2,1.1"/>
<rect x="370.9" y="281.3" width="72.7" height="32.7" rx="3.6" fill="none" stroke="#e8484e" stroke-width="0.55" stroke-dasharray="2,1.1"/>
<text x="372.9" y="247" font-size="2.7" text-anchor="start" fill="#111" font-weight="bold" >Previous work:</text>
<text x="372.9" y="286" font-size="2.7" text-anchor="start" fill="#111" font-weight="bold" >This work:</text>
<text x="373.1" y="278.6" font-size="3.08" text-anchor="start" fill="#111" font-weight="normal" >Modification by <tspan fill="#e01c24">electron withdraw groups</tspan> (-Cl)</text>
<text x="410" y="312.4" font-size="3.13" text-anchor="middle" fill="#111" font-weight="normal" >Catalysis by <tspan fill="#4a8ad0">Lewis base</tspan> (PLN)</text>
<polygon points="389.5,265.0 385.0,262.4 385.0,257.2 389.5,254.6 394.0,257.2 394.0,262.4" fill="none" stroke="#333" stroke-width="0.5"/>
<line x1="389.5" y1="263.5" x2="386.3" y2="261.7" stroke="#333" stroke-width="0.5"/>
<line x1="386.3" y1="257.9" x2="389.5" y2="256.1" stroke="#333" stroke-width="0.5"/>
<line x1="392.7" y1="257.9" x2="392.7" y2="261.7" stroke="#333" stroke-width="0.5"/>
<polygon points="429.1,265.0 424.6,262.4 424.6,257.2 429.1,254.6 433.6,257.2 433.6,262.4" fill="none" stroke="#333" stroke-width="0.5"/>
<line x1="394.0" y1="262.4" x2="396.1" y2="263.6" stroke="#333" stroke-width="0.4"/>
<line x1="385.0" y1="262.4" x2="382.9" y2="263.6" stroke="#333" stroke-width="0.4"/>
<line x1="385.0" y1="257.2" x2="382.9" y2="256.0" stroke="#333" stroke-width="0.4"/>
<line x1="394.0" y1="257.2" x2="396.1" y2="256.0" stroke="#333" stroke-width="0.4"/>
<line x1="389.5" y1="265.0" x2="389.5" y2="267.4" stroke="#333" stroke-width="0.4"/>
<line x1="389.5" y1="254.6" x2="389.5" y2="252.2" stroke="#333" stroke-width="0.4"/>
<line x1="433.6" y1="262.4" x2="435.7" y2="263.6" stroke="#333" stroke-width="0.4"/>
<line x1="424.6" y1="262.4" x2="422.5" y2="263.6" stroke="#333" stroke-width="0.4"/>
<line x1="424.6" y1="257.2" x2="422.5" y2="256.0" stroke="#333" stroke-width="0.4"/>
<line x1="433.6" y1="257.2" x2="435.7" y2="256.0" stroke="#333" stroke-width="0.4"/>
<line x1="429.1" y1="265.0" x2="429.1" y2="267.4" stroke="#333" stroke-width="0.4"/>
<line x1="429.1" y1="254.6" x2="429.1" y2="252.2" stroke="#333" stroke-width="0.4"/>
<line x1="429.70000000000005" y1="265.0" x2="429.70000000000005" y2="267.4" stroke="#333" stroke-width="0.4"/>
<line x1="429.70000000000005" y1="254.6" x2="429.70000000000005" y2="252.2" stroke="#333" stroke-width="0.4"/>
<text x="389.8" y="250.4" font-size="2.8" text-anchor="middle" fill="#333" font-weight="normal" >OH</text>
<text x="389.8" y="271.0" font-size="2.8" text-anchor="middle" fill="#333" font-weight="normal" >OH</text>
<text x="429.1" y="250.4" font-size="2.8" text-anchor="middle" fill="#333" font-weight="normal" >O</text>
<text x="429.1" y="271.0" font-size="2.8" text-anchor="middle" fill="#333" font-weight="normal" >O</text>
<text x="379.9" y="255.4" font-size="2.6" text-anchor="middle" fill="#3a4ad8" font-weight="normal" >N</text>
<text x="419.5" y="255.4" font-size="2.6" text-anchor="middle" fill="#3a4ad8" font-weight="normal" >N</text>
<text x="379.9" y="265.40000000000003" font-size="2.6" text-anchor="middle" fill="#3a4ad8" font-weight="normal" >N</text>
<text x="419.5" y="265.40000000000003" font-size="2.6" text-anchor="middle" fill="#3a4ad8" font-weight="normal" >N</text>
<text x="399.1" y="255.4" font-size="2.6" text-anchor="middle" fill="#3a4ad8" font-weight="normal" >N</text>
<text x="438.70000000000005" y="255.4" font-size="2.6" text-anchor="middle" fill="#3a4ad8" font-weight="normal" >N</text>
<text x="399.1" y="265.40000000000003" font-size="2.6" text-anchor="middle" fill="#3a4ad8" font-weight="normal" >N</text>
<text x="438.70000000000005" y="265.40000000000003" font-size="2.6" text-anchor="middle" fill="#3a4ad8" font-weight="normal" >N</text>
<text x="408.7" y="254.60000000000002" font-size="2.6" text-anchor="middle" fill="#333" font-weight="normal" >Oxidation</text>
<text x="408.7" y="257.40000000000003" font-size="2.4" text-anchor="middle" fill="#333" font-weight="normal" >-2e<tspan font-size="1.8" dy="-0.8">-</tspan><tspan dy="0.8">, -2H</tspan><tspan font-size="1.8" dy="-0.8">+</tspan></text>
<path d="M401,259.0 L416.5,259.0 L415,258.2 M416.5,260.2 L401,260.2 L402.5,261.0" fill="none" stroke="#333" stroke-width="0.35"/>
<text x="408.7" y="262.40000000000003" font-size="2.6" text-anchor="middle" fill="#333" font-weight="normal" >Reduction</text>
<text x="408.7" y="265.2" font-size="2.4" text-anchor="middle" fill="#333" font-weight="normal" >+2e<tspan font-size="1.8" dy="-0.8">-</tspan><tspan dy="0.8">, +2H</tspan><tspan font-size="1.8" dy="-0.8">+</tspan></text>
<polygon points="389.5,302.5 385.0,299.9 385.0,294.7 389.5,292.1 394.0,294.7 394.0,299.9" fill="none" stroke="#333" stroke-width="0.5"/>
<line x1="389.5" y1="301.0" x2="386.3" y2="299.2" stroke="#333" stroke-width="0.5"/>
<line x1="386.3" y1="295.4" x2="389.5" y2="293.6" stroke="#333" stroke-width="0.5"/>
<line x1="392.7" y1="295.4" x2="392.7" y2="299.2" stroke="#333" stroke-width="0.5"/>
<polygon points="429.1,302.5 424.6,299.9 424.6,294.7 429.1,292.1 433.6,294.7 433.6,299.9" fill="none" stroke="#333" stroke-width="0.5"/>
<line x1="394.0" y1="299.9" x2="396.1" y2="301.1" stroke="#333" stroke-width="0.4"/>
<line x1="385.0" y1="299.9" x2="382.9" y2="301.1" stroke="#333" stroke-width="0.4"/>
<line x1="385.0" y1="294.7" x2="382.9" y2="293.5" stroke="#333" stroke-width="0.4"/>
<line x1="394.0" y1="294.7" x2="396.1" y2="293.5" stroke="#333" stroke-width="0.4"/>
<line x1="389.5" y1="302.5" x2="389.5" y2="304.9" stroke="#333" stroke-width="0.4"/>
<line x1="389.5" y1="292.1" x2="389.5" y2="289.7" stroke="#333" stroke-width="0.4"/>
<line x1="433.6" y1="299.9" x2="435.7" y2="301.1" stroke="#333" stroke-width="0.4"/>
<line x1="424.6" y1="299.9" x2="422.5" y2="301.1" stroke="#333" stroke-width="0.4"/>
<line x1="424.6" y1="294.7" x2="422.5" y2="293.5" stroke="#333" stroke-width="0.4"/>
<line x1="433.6" y1="294.7" x2="435.7" y2="293.5" stroke="#333" stroke-width="0.4"/>
<line x1="429.1" y1="302.5" x2="429.1" y2="304.9" stroke="#333" stroke-width="0.4"/>
<line x1="429.1" y1="292.1" x2="429.1" y2="289.7" stroke="#333" stroke-width="0.4"/>
<line x1="429.70000000000005" y1="302.5" x2="429.70000000000005" y2="304.9" stroke="#333" stroke-width="0.4"/>
<line x1="429.70000000000005" y1="292.1" x2="429.70000000000005" y2="289.7" stroke="#333" stroke-width="0.4"/>
<text x="389.8" y="287.90000000000003" font-size="2.8" text-anchor="middle" fill="#333" font-weight="normal" >OH</text>
<text x="389.8" y="308.5" font-size="2.8" text-anchor="middle" fill="#333" font-weight="normal" >OH</text>
<text x="429.1" y="287.90000000000003" font-size="2.8" text-anchor="middle" fill="#333" font-weight="normal" >O</text>
<text x="429.1" y="308.5" font-size="2.8" text-anchor="middle" fill="#333" font-weight="normal" >O</text>
<text x="379.9" y="292.90000000000003" font-size="2.6" text-anchor="middle" fill="#e01c24" font-weight="normal" >Cl</text>
<text x="419.5" y="292.90000000000003" font-size="2.6" text-anchor="middle" fill="#e01c24" font-weight="normal" >Cl</text>
<text x="379.9" y="302.90000000000003" font-size="2.6" text-anchor="middle" fill="#e01c24" font-weight="normal" >Cl</text>
<text x="419.5" y="302.90000000000003" font-size="2.6" text-anchor="middle" fill="#e01c24" font-weight="normal" >Cl</text>
<text x="399.1" y="292.90000000000003" font-size="2.6" text-anchor="middle" fill="#e01c24" font-weight="normal" >Cl</text>
<text x="438.70000000000005" y="292.90000000000003" font-size="2.6" text-anchor="middle" fill="#e01c24" font-weight="normal" >Cl</text>
<text x="399.1" y="302.90000000000003" font-size="2.6" text-anchor="middle" fill="#e01c24" font-weight="normal" >Cl</text>
<text x="438.70000000000005" y="302.90000000000003" font-size="2.6" text-anchor="middle" fill="#e01c24" font-weight="normal" >Cl</text>
<text x="408.7" y="292.1" font-size="2.6" text-anchor="middle" fill="#333" font-weight="normal" >Oxidation</text>
<text x="408.7" y="294.90000000000003" font-size="2.4" text-anchor="middle" fill="#333" font-weight="normal" >-2e<tspan font-size="1.8" dy="-0.8">-</tspan><tspan dy="0.8">, -2H</tspan><tspan font-size="1.8" dy="-0.8">+</tspan></text>
<path d="M401,296.5 L416.5,296.5 L415,295.7 M416.5,297.7 L401,297.7 L402.5,298.5" fill="none" stroke="#333" stroke-width="0.35"/>
<text x="408.7" y="299.90000000000003" font-size="2.6" text-anchor="middle" fill="#333" font-weight="normal" >Reduction</text>
<text x="408.7" y="302.7" font-size="2.4" text-anchor="middle" fill="#333" font-weight="normal" >+2e<tspan font-size="1.8" dy="-0.8">-</tspan><tspan dy="0.8">, +2H</tspan><tspan font-size="1.8" dy="-0.8">+</tspan></text>
<polygon points="456.5,259 481.7,236.8 481.7,249 456.5,282" fill="#e4f2f2" stroke="#c8dcdc" stroke-width="0.3"/>
<rect x="481.7" y="236.8" width="29" height="12.2" fill="#fbf8d2" stroke="#d8d8b0" stroke-width="0.3"/>
<polygon points="456.5,282 481.7,249 510.7,249 497,282" fill="#f2f4f4" stroke="#c8c8c8" stroke-width="0.3"/>
<path d="M481.7,249 C484,243 496,240.3 510.7,240.8 C510,245.5 503,248.7 492,249.3 Z" fill="url(#ellGray)"/>
<path d="M471,259.6 C472,254 484,250.8 505.4,250.6 C504,255 497,258.6 488,259.5 Z" fill="url(#ellBlue)"/>
<path d="M458,278 C461,268 478,262.3 498.5,261.8 C497,270 486,276.6 470,278 Z" fill="url(#ellRed)"/>
<text x="501.5" y="248.8" font-size="2.4" text-anchor="middle" fill="#333" font-weight="normal" >100.0 %</text>
<text x="495.5" y="260.6" font-size="2.4" text-anchor="middle" fill="#3a6ad0" font-weight="normal" >107.4 %</text>
<text x="488" y="277" font-size="2.4" text-anchor="middle" fill="#d03030" font-weight="normal" >100.0 %</text>
<line x1="456.5" y1="259" x2="456.5" y2="282" stroke="#666" stroke-width="0.35"/>
<line x1="456.5" y1="282" x2="497" y2="282" stroke="#666" stroke-width="0.35"/>
<text x="454.6" y="260.5" font-size="1.9" text-anchor="end" fill="#333" font-weight="normal" >0.05</text>
<text x="457" y="284.4" font-size="1.9" text-anchor="middle" fill="#333" font-weight="normal" >-0.8</text>
<text x="454.6" y="264.7" font-size="1.9" text-anchor="end" fill="#333" font-weight="normal" >0.04</text>
<text x="465" y="284.4" font-size="1.9" text-anchor="middle" fill="#333" font-weight="normal" >-0.4</text>
<text x="454.6" y="268.9" font-size="1.9" text-anchor="end" fill="#333" font-weight="normal" >0.03</text>
<text x="473" y="284.4" font-size="1.9" text-anchor="middle" fill="#333" font-weight="normal" >0.0</text>
<text x="454.6" y="273.1" font-size="1.9" text-anchor="end" fill="#333" font-weight="normal" >0.02</text>
<text x="481" y="284.4" font-size="1.9" text-anchor="middle" fill="#333" font-weight="normal" >0.4</text>
<text x="454.6" y="277.3" font-size="1.9" text-anchor="end" fill="#333" font-weight="normal" >0.01</text>
<text x="489" y="284.4" font-size="1.9" text-anchor="middle" fill="#333" font-weight="normal" >0.8</text>
<text x="454.6" y="281.5" font-size="1.9" text-anchor="end" fill="#333" font-weight="normal" >0.00</text>
<text x="497" y="284.4" font-size="1.9" text-anchor="middle" fill="#333" font-weight="normal" >1.2</text>
<text transform="translate(449.5,271) rotate(-90)" font-size="2.6" text-anchor="middle" fill="#333">Current (A)</text>
<text x="476.5" y="287.4" font-size="2.6" text-anchor="middle" fill="#333" font-weight="normal" >Potential (V)</text>
<text x="514" y="251.6" font-size="2" text-anchor="start" fill="#333" font-weight="normal" >PLN</text>
<text x="508" y="263.6" font-size="2" text-anchor="start" fill="#333" font-weight="normal" >Monomer</text>
<text x="503" y="275.6" font-size="2" text-anchor="start" fill="#333" font-weight="normal" >Cycled</text>
<rect x="458.7" y="288.5" width="45" height="29.8" fill="#fff" stroke="#444" stroke-width="0.4"/>
<polyline points="460.5,312 465,312 472.5,296 480,296 487,296 494,294.5 503,294.5" fill="none" stroke="#555" stroke-width="0.45" stroke-dasharray="0.9,0.5"/>
<polyline points="460.5,312 465,312 472.5,296 480,296 487,294.5 494,294.5 503,294.5" fill="none" stroke="#e03030" stroke-width="0.45" stroke-dasharray="0.9,0.5"/>
<polyline points="460.5,313 465,313 474,308 481,308 489,301 495,301 501,291.5 504,291.5" fill="none" stroke="#5a6ae8" stroke-width="0.45" stroke-dasharray="0.9,0.5"/>
<text x="463" y="291.2" font-size="1.7" text-anchor="start" fill="#333" font-weight="normal" >&#8212; Monomer</text>
<text x="463" y="293.2" font-size="1.7" text-anchor="start" fill="#e03030" font-weight="normal" >&#8212; 4ClQ</text>
<text x="463" y="295.2" font-size="1.7" text-anchor="start" fill="#5a6ae8" font-weight="normal" >&#8212; PLN</text>
<text x="480" y="291.5" font-size="1.7" text-anchor="start" fill="#333" font-weight="normal" >Rate-determining step</text>
<text transform="translate(456.2,303) rotate(-90)" font-size="2.2" text-anchor="middle" fill="#333">Gibbs free energy (eV)</text>
<text x="482" y="322" font-size="2.8" text-anchor="middle" fill="#333" font-weight="normal" >Reaction coordinate</text>
</svg></body></html>
